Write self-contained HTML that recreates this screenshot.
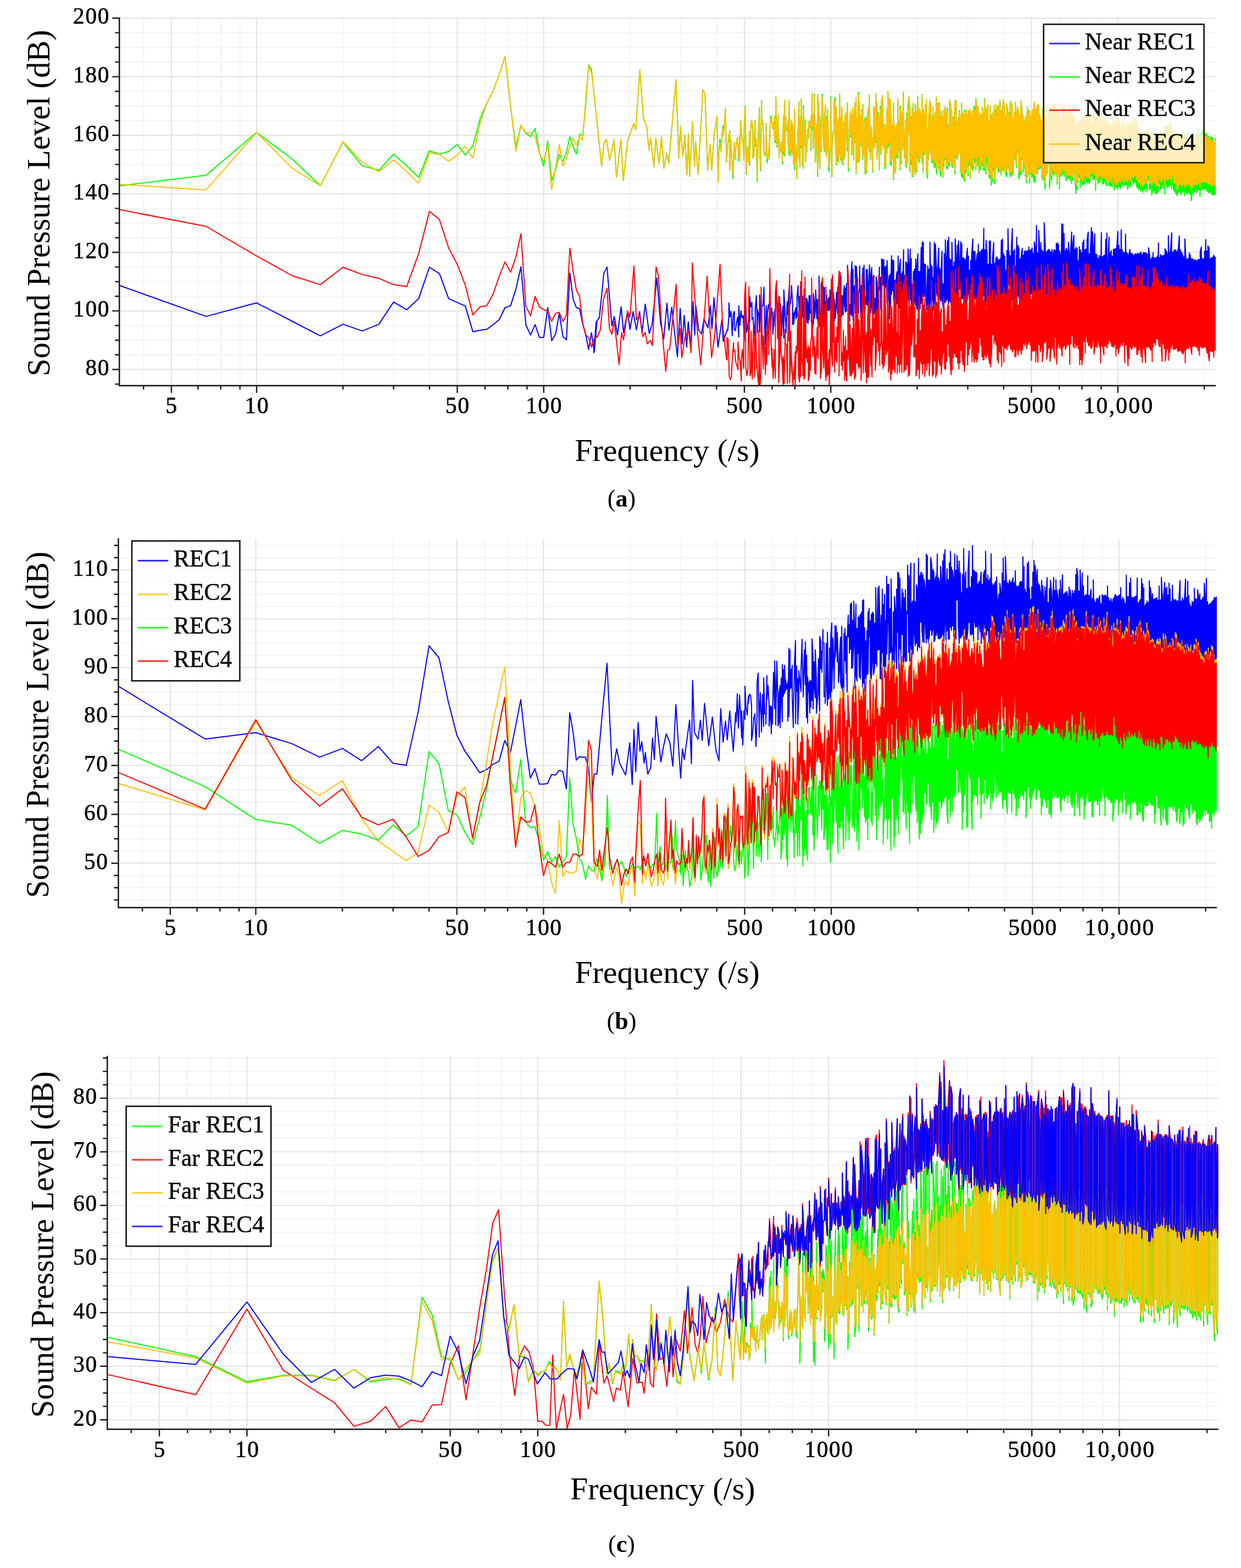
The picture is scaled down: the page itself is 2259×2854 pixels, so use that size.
<!DOCTYPE html>
<html><head><meta charset="utf-8"><title>Sound Pressure Level spectra</title>
<style>html,body{margin:0;padding:0;background:#fff;}svg{display:block;filter:blur(0.5px);}</style></head>
<body><svg xmlns="http://www.w3.org/2000/svg" width="2259" height="2854" viewBox="0 0 2259 2854" font-family='"Liberation Serif", "Times New Roman", serif' fill="#000">
<rect width="2259" height="2854" fill="#fff"/>
<path d="M261.3 33V702M360.4 33V702M401.8 33V702M436.8 33V702M624.4 33V702M716.4 33V702M781.7 33V702M883 33V702M924.4 33V702M959.4 33V702M1147 33V702M1239 33V702M1304.3 33V702M1405.6 33V702M1447 33V702M1482 33V702M1669.6 33V702M1761.6 33V702M1826.9 33V702M1928.2 33V702M1969.6 33V702M2004.6 33V702M2192.2 33V702M217.3 699.1H2213M217.3 645.8H2213M217.3 619.2H2213M217.3 592.5H2213M217.3 539.3H2213M217.3 512.6H2213M217.3 486H2213M217.3 432.7H2213M217.3 406H2213M217.3 379.4H2213M217.3 326.1H2213M217.3 299.4H2213M217.3 272.8H2213M217.3 219.5H2213M217.3 192.9H2213M217.3 166.2H2213M217.3 112.9H2213M217.3 86.3H2213M217.3 59.6H2213" stroke="#f2f2f2" stroke-width="2" fill="none"/>
<path d="M312 33V702M467.1 33V702M832.4 33V702M989.7 33V702M1355 33V702M1512.3 33V702M1877.6 33V702M2034.9 33V702M217.3 672.5H2213M217.3 565.9H2213M217.3 459.3H2213M217.3 352.7H2213M217.3 246.2H2213M217.3 139.6H2213M217.3 33H2213" stroke="#e2e2e2" stroke-width="2" fill="none"/>
<clipPath id="clipa"><rect x="217.3" y="31" width="1995.7" height="671"/></clipPath>
<g clip-path="url(#clipa)" fill="none" stroke-width="2.0" stroke-linejoin="round">
<path stroke="#0000ff" d="M217.8 519.7l157.3 56.2 92-24.6 65.3 33.7 50.6 26.3 41.4-21.2 35 12.3 30.3-12.3 26.7-40.4 24 14.1 21.6-20.2 19.7-57.1 18.2 11.4 16.8 45.7 15.7 7 14.6 6.5 13.8 46.8 13-2.9 12.2-1.4 11.7-8.8 11-8.8 10.6-22 10.1-3.6 9.7-30 9.2-41 8.9 105.4 8.6 19 8.2-19 8 23.4 7.7 0 7.4-54.2 7.2 60 7-11.7 6.8-38 6.6 42.4 6.4 5.9 6.2-121.5 6.1 48.3 5.8 14.6 5.8 1.5 5.6 27.8 5.5 19 5.3 27.9 5.2-30.8 5.1 35.1 5-55.6-5.8 57.1 4.3-55.6 5.9-8.8 8.1-80.5 5.8-11 8.8 106.9 4.4-16.9 5.8 33.7 6.6-51.2 4.4 46.8 7.3-38.1 4.4 32.2 5.9-32.2 5.8 33 5.9-33 4.4 38.1 5.8-52 7.3 53.5 5.2-16.1 8.8-84.9 6.5 81.9 5.9 29.3 5.9-65.1 3.6 49 5.1-41.7 4.7 41.7 5.6 48.3 5.1-87.8 3.7 64.4 3.6-52 4.4 57.8 2.9-46.1 5.2 46.1 3.6-82.7 3 60.8 2.1-53.4 5.2 44.6 5.1 6.6 4.4-27.1 7.3 16.1 4.4-40.2 2.9 41.7 3.7-56.4 7.3 90 7.3-50.5 2.2 40.3 7.3-21.2 1 0.9 2-26 0-24 2 25.6 2-10 2 44.2 2-40.2 2-3.9 0 32.9 2 2.1 2-14.8 2-10.2 2 36.6 0-56.8 2 35.3 2-26.1 2 12.4 2-2.8 0-1.3 2 45.3 2-87.3 2 54.7 0 17.9 2-7.9 2-17.8 2 6.6 0-45.9 2 18.7 2-7.6 0 30.2 2-3.2 2 33.3 2-29.3 0-19.7 2-24.1 2 67.5 0-42.6 2 7.9 2 32.4 0-66.6 2 45.6 2 17.2 0-41.2 2-2.7 2-32.5 0 13.3 2 90.5 2-70.3 0 2.4 2 50.2 0-39.4 2-16.2 2 10.2 0-8.2 2 45.5 2-40.3 0 6 2 1.7 0 39.9 2-28.4 2-16.9 0 31.1 2-68.7 0-3.1 2 32 0 15 2 27.4 2 3.1 0-30.7 2 19.2 0-35.7 2 39 0 19.7 2-53.9 2 58.1 0-88.1 2 34.9 0 7.4 2 26.5 0 9.9 2-57 0 23.3 2-0.1 0-24.3 2-27.9 0 38.6 2-6.9 2-21.6 0-10.4 2 32.9 0 37.7 2-21.1 0 20.7 2-24 0 4.3 2-10.4 0 20 2-5.1 0-34.3 2-20.7 0 13.9 2 32.6 0-26.7 2 15.5 0 23.8 2-17.1 0-43.8 2 58.6 0-38 2 42.6 0-13 2 25 0-24.1 2-2.3 0-23.8 2 43.5 0-43.3 2 14 0 31.6 2-50.8 0 44.1 2-44.3 0 31.8 2-4.3 0 20.5 2-2.8 0 15.2 2-11.6 0-51.7 2 16.6 0 28 2-27.2 0-24.9 2 52.3 0-35.3 2 42.9 0-42 2 21.3 0-64.3 2 81.6 0 7.1 2-17.4 0-57 2-5.2 0 74.6 2-64.4 0 72.9 2-71 0 37 2-12.5 0 21.7 2 15.6 0-47.6 2 26.8 0-12.8 2-10.6 0 24.2 2-4.3 0-33.5 2 38.8 0 9.7 2-70.4 0 74.3 2-1.5 0-16.1 2 22.2 0-40 2 35 0-3.9 2-44 0 18.7 2 21.4 0-49.2 2 45.8 0-49.9 2 38.9 0-58.7 2 4.2 0 74 2-3.7 0-35.1 2 34.6 0-28.3 2-24.4 0 33.1 2 14.9 0-44 2 42.3 0-48.5 2-3.7 0-31.2 2 93.3 0-20.4 2 28.7 0-30.5 2 17.8 0-64 2-31.3 0 99 2-85 0 91.9 2-53.4 0-8.4 2 49.4 0-86.4 2 89.7 0-88.6 2 29.9 0 56.8 2-1.9 0-35.4 2-10.6 0-39.6 2 93.6 0-53.3 2-6.4 0 50.9 2-81.3 0 51.5 2 27.4 0-83.5 2 81.8 0-22.6 2 11.9 0-63.3 2 64.9 0-64.8 2 90.1 0-52.6 2-45.4 0 79.8 2 7.2 0-68.6 2-14.1 0 69.2 2 18.2 0-68.8 2-4.3 0 69.6 2-27.7 0 39.3 2-4.8 0-74.4 2 11.1 0 57.8 2-49 0 30.3 2-67.3 0 41.1 2-22.8 0 54.9 2 13.9 0-101.6 2 0.6 0 46.8 2-46.3 0 37.2 2 40.1 0-64.5 2 36.7 0-38.7 2 67.4 0-76.9 2 73.4 0-23.1 2-22.9 0 79.2 2-82.3 0 61 2-93.9 0 70.3 2-63 0 56.5 2-54.9 0 72.9 2-37.4 0 31.9 2-13.5 0-17 2-16.9 0 58.3 2-8 0-78.9 2 95.3 0-70.2 2-18.9 0 105.6 2-79.4 0 65 2-68.5 0 63.5 2-103.7 0 124.6 2-78.4 0 75.5 2-34.2 0-65.4 2 3.4 0 76.8 2-13.4 0-90.3 2 39 0 69.1 2-107.7 0 92.1 2-74.8 0 85.5 2-39.2 0 33.9 2-57.1 0 62.9 2-8 0-59.4 2 66.4 0-84.7 2 90.5 0-73.3 2-26.2 0 102.1 2-70.1 0 66.8 2-67 0 67.9 2-111.4 0 101.7 2-112 0 130.5 2-129.5 0 96.6 2 2.2 0-59.5 2 1.5 0 46.8 2 34.5 0-30 2-49.5 0 67 2 21.3 0-82.5 2 79.4 0-128.1 2 111.8 0-69.8 2 2.6 0 62.3 2-42.8 0 61.1 2-125 0 108.1 2 14 0-118.8 2 49.6 0 38.5 2 6.8 0-49.4 2-38.5 0 103.7 2-66.2 0 53.3 2 6.3 0-51 2-40.2 0 84.6 2 18.6 0-44.3 2 35.2 0-89.4 2 88.4 0-113.8 2 110.7 0-60 2-49.3 0 104 2 10.6 0-121.2 2 117.1 0-78.3 2 81.8 0-79.4 2 52.4 0-83.8 2 102.5 0-58.8 2 85.4 0-93.2 2 72 0-114.4 2 35.6 0 78.1 2 18.3 0-120.4 2 77.2 0-84.9 2 62.2 0 25.6 2-86.4 0 124.6 2-121.2 0 99.9 2-74.1 0 74.8 2-74.6 0 78.2 2-74.8 0 71.5 2 26.6 0-99.5 2-19.4 0 95 2-81.2 0 63.1 2 17.2 0-54.7 2 66.8 0-83.9 2 67.5 0-79.5 2-27.2 0 106.9 2 10.7 0-94.9 2-0.1 0 86.1 2 0.9 0-66.9 2-15.7 0 82 2-99.5 0 91.8 2-78.2 0 82.8 2 15.8 0-96.7 2-5 0 95.4 2-97.2 0 85.2 2-123.1 0 123.4 2-84.3 0 110 2-29.2 0-98 2 23.9 0 94.8 2 7.9 0-82.9 2 64.5 0-106.4 2-0.6 0 103.4 2-61.1 0 71.8 2-3.1 0-80.7 2-27.2 0 113.6 2-76.2 0 79.7 2-89.5 0 77.5 2-0.9 0-78.4 2 66.9 0-62.9 2 76.9 0-73.8 2-3.7 0 73.7 2-106.9 0 103.4 2-106.1 0 113.5 2-86.8 0 106.4 2-9.2 0-93.4 2 102 0-75.6 2 60 0-95.8 2 69.1 0-108.3 2 100.6 0-59.7 2 81.9 0-74 2 79.5 0-89.6 2-39.5 0 129.4 2-88.2 0 88.9 2-91.9 0 89.6 2-59.6 0 58.3 2-110.7 0 100.3 2 6.6 0-92.3 2 6.8 0 89.8 2-72 0 70.5 2 19.2 0-93.2 2-15.6 0 92.3 2-79.9 0 72.9 2 7.5 0-86.7 2-1.5 0 78.9 2 8.4 0-86.2 2 68.6 0-70.5 2 94.7 0-100.8 2 89.6 0-82.4 2-2.7 0 81.1 2-2.5 0-81.5 2 88 0-77.9 2 78.7 0-99.8 2 12.6 0 98.3 2-140.9 0 129.4 2-79.5 0 68.4 2 8.8 0-117.9 2 38.1 0 85.5 2-101.4 0 102.4 2-89 0 100.6 2-98.2 0 83.8 2 3.1 0-139.1 2 42.6 0 91.1 2-4.4 0-75.9 2 81.2 0-84 2 86.1 0-87.9 2 2.4 0 81 2 30.2 0-109.1 2 89.9 0-94.5 2 93.3 0-85.8 2-7.3 0 90.5 2-88.8 0 89.1 2-11.6 0-90.1 2 99.3 0-100.6 2 4 0 119.4 2-23.3 0-85.1 2 9.8 0 85.9 2-145 0 135.1 2 22.3 0-157.1 2 131.8 0-114.7 2 125.4 0-94 2 89.2 0-93.5 2 4.5 0 96.5 2-17.2 0-94.8 2 23.7 0 77.4 2 4 0-88.6 2-35.4 0 119.4 2 15.9 0-112 2-16.9 0 114.9 2 1.8 0-90.4 2-4.3 0 94.9 2-93.5 0 112.4 2-89.8 0 84.6 2-110.3 0 95.9 2-90.1 0 89.5 2-84.3 0 95.8 2-114.5 0 101.4 2-105.9 0 91.7 2 16.5 0-89.8 2-2 0 99.9 2-10.9 0-104.5 2-15 0 119.3 2 7.5 0-87.4 2 86.2 0-91.1 2-42.9 0 147.3 2-20.6 0-118.9 2 121.9 0-85 2-33.5 0 118.6 2-81.7 0 91 2-89.9 0 83.3 2-76.4 0 80.2 2-85.8 0 86.8 2-84.5 0 92.6 2-136.1 0 131 2-87.3 0 93.3 2-95.2 0 102.4 2-103.7 0 87.2 2-115.8 0 116.2 2-127.2 0 121.6 2 3.7 0-70.8 2-47.7 0 113.9 2 0.7 0-84.3 2-5.1 0 90.6 2-0.2 0-80.7 2 88.9 0-101.2 2 100 0-100.5 2 89 0-90.1 2 92.6 0-92.5 2-31 0 125.5 2 2 0-102.4 2 100.3 0-92.9 2 91.8 0-127 2 130.2 0-93.8 2 91.6 0-87.7 2 101.7 0-100.6 2 81.4 0-115.1 2 142.4 0-109.1 2 102 0-99.9 2 95.5 0-92.3 2-10.8 0 113.4 2-107.6 0 92.4 2-90.1 0 87.9 2 2.4 0-89.7 2 103.9 0-100.9 2-3.9 0 91.6 2-91 0 90.2 2-91.6 0 100.2 2-98.8 0 87.8 2-89.5 0 97 2-99.4 0 94.4 2 3.2 0-92.8 2 82.1 0-85.4 2 0.2 0 99.7 2-99.7 0 91.3 2-90.6 0 91.3 2-4.6 0-84.6 2 90.2 0-102 2 14.6 0 89.3 2-83.4 0 104.9 2-19.8 0-89 2 83.7 0-91.5 2 96.8 0-87.3 2 84.5 0-84.5 2-0.3 0 100.7 2-103.7 0 89.7 2-113.6 0 133 2-106.6 0 98.9 2-104.2 0 105.9 2-12.8 0-91.1 2 90.3 0-90.1 2 89.4 0-90.6 2 88.5 0-100.1 2 99.8 0-96.4 2 6.5 0 89.6 2 15.3 0-138.4 2 122.1 0-93.3 2 103.4 0-106.4 2-31.3 0 124.5 2-88.5 0 110.2 2-113.7 0 94.7 2-0.5 0-96 2 5.6 0 97.3 2-101.5 0 103.5 2 13.6 0-119 2-24.3 0 123.9 2-99.2 0 98.5 2 18.9 0-112.8 2 5.7 0 96.8 2-93.9 0 96.5 2 13.7 0-142.6 2 39.3 0 85.2 2-2.3 0-86 2-0.1 0 87.3 2-98.1 0 116.4 2-112.7 0 98.6 2-91.6 0 83.1 2-83.1 0 89.5 2-1.4 0-85.9 2 85.6 0-85.7 2 83.9 0-83.8 2 87.7 0-86.2 2 84.1 0-86.8 2 1 0 86.3 2 9 0-110.3 2-8.3 0 126.3 2-105.8 0 89.4 2-88.1 0 99.2 2-113.4 0 101.1 2-122.5 0 119.7 2-98.6 0 100.8 2-110.6 0 111.6 2-1.1 0-107.4 2 108.4 0-88 2 86.9 0-87.8 2-1.2 0 89.7 2-1.2 0-92.4 2 2.6 0 88.6 2-87.5 0 98.3 2-12 0-80.4"/>
<path stroke="#00ff00" d="M217.8 338.2l157.3-19.2 92-78 65.3 49 50.6 47.9 41.4-79.1 35 43.1 30.3 7.9 26.7-29.4 24 21.6 21.6 21 19.7-48.5 18.2 6.1 16.8-5.1 15.7-12.9 14.6 19.8 13.8-16.9 13-49.2 12.2-28.1 11.7-22.8 11-29.9 10.6-32.5 10.1 90.5 9.7 73.8 9.2-39.6 8.9 15 8.6 6.1 8.2-14.9 8 43.9 7.7 24.6 7.4-45.7 7.2 72.1 7-19.4 6.8-28.1 6.6 12.3 6.4-15.8 6.2-29 6.1 18.5 5.8 13.1 5.8-36 5.6 1.8 5.5-52.7 5.3-75.5 5.2 8.7 1 8.7 17.5 166.8 4.4-41.7 4.4-6.6 5.9 38.1 8-38.1 4.4 68.8 8.1-68.8 4.3 74.7 8.1-73.2 11-30.7 3.6 11.7 7.4-109.1 6.5 87.1 5.9 16.1 4.4 42.5 2.9-22 5.9 52.7 3.6-52.7 5.9 46.8 4.4-49 4.4 57.8 5.1-27.8 3.6 19 13.2-152.9 5.1 142.7 3-57.1 4.4 54.2 3.6-38.1 3.7 71.7 2.9-74.6 2.2 77.6 5.1-99.6 3.7 80.5 2.2-43.9 4.4 58.6 3.6-63 5.1-90 3.7 6.6 5.1 139.1 4.4-46.9 3 46.9 4.3-65.9 5.2-32.2 2.2 120 1-51.1 2-26.9 2 21.1 2-33.2 2-12.3 0 17.5 2-14.5 2-34.5 2 97.4 2-26.4 2-20.7 2-9.8 0 71.3 2-54.1 2 44 2 25.8 2-63 2 27.7 0-12.1 2-16.5 2-11.2 2 43 2-44 0 38.4 2-67.4 2 30.5 2 5.6 2 34.4 0-51 2-46.8 2 124.7 2-39.9 0-8.5 2 23.4 2-53 0 61.9 2-71.1 2-7.8 2 17.8 0 46.8 2-3.5 2-64.2 0 47.5 2-14.5 2 72.4 0 6 2-91.8 2-42.6 0 56.8 2 57.7 2-127.6 0 44 2-3.4 2 27.9 0 24 2 8.3 2-6.1 0-53.6 2 72.2 2-15.1 0 1.6 2-21.8 0 28.9 2-79.1 2 3.3 0 2.8 2 16 2 1 0-11.6 2 36.5 0-47.6 2 48.2 0-83.1 2 91.3 2-54.8 0 27 2 47.5 0-32.4 2 21.6 2-10.8 0-7.7 2 40.1 0-34.9 2-52.2 0 69.6 2-96.7 0 99.7 2-68.6 0 22.2 2 0.1 2-17 0 41.2 2 19.3 0-95.7 2 97.6 0-4.7 2-57 0 55.9 2 1.6 0-52.3 2 33.4 0 38.4 2-95 0 105.7 2-37.7 0-3.4 2 37.4 0 20 2-87.3 0 33.1 2-86 0 102.7 2 15.5 0-90.9 2 56.6 0-88.8 2 76.5 0 41.3 2 9 0-114.8 2 57.3 0 16.6 2-48 0 77 2-31 0 10.3 2-38.5 0 0.2 2 16.2 0-30.9 2 8.4 0 2.9 2-19.4 0 60.4 2-102.8 0 64.7 2-26.9 0 61.6 2-53.3 0-45.3 2 123.3 0-6.5 2-61.1 0 4.1 2 90.2 0-147.9 2 19.4 0 84.1 2 29.5 0-94.5 2 56.1 0 7.8 2-96 0-8.8 2 42.1 0 36.5 2 25.5 0-53.6 2-29.6 0 81 2 11.5 0-72.1 2 63.5 0-75.1 2 71.4 0 39.4 2-25.7 0-9.2 2-12.4 0-89.2 2 146.1 0-48.7 2-23.5 0-5.2 2-2.5 0-56.4 2-8.4 0 78.6 2 44.9 0-105.3 2 98 0-47.8 2-29.9 0 79.9 2-24.5 0-99.1 2 120.1 0-75.8 2 79.2 0-99.3 2 65.6 0 38.7 2-76.6 0 65.9 2-9.6 0-66.8 2-7.6 0 28.7 2 40.4 0-87.2 2 124.5 0-28 2-48.5 0-9.3 2-20.5 0 43.8 2-40.5 0 73.3 2-83.6 0 69.4 2 20.7 0-56.5 2-43.7 0 70.9 2-75.3 0 132 2-100.7 0 79.8 2-126.7 0 127.1 2-110.1 0 107.4 2-82.2 0 56 2-66.7 0 48.9 2 41.4 0-100.3 2 76.1 0 15.3 2-66.7 0 102.1 2-101 0 100 2-24.2 0-78.4 2-15.8 0 62.8 2 16 0-103.3 2 117.1 0-48.6 2 35 0-39.7 2 76.4 0-61.3 2 12.8 0-69.1 2 5.8 0 66.5 2-91.3 0 82.6 2-71.4 0 101.6 2-25.7 0-58.3 2 13.2 0 91.1 2-115.5 0 77.2 2 9.6 0-96.8 2 76.2 0-85.8 2 96.1 0-36.4 2-7.2 0 80.2 2-70.3 0 66.3 2-102.5 0 76.3 2-108.5 0 100.3 2-11.1 0-79.2 2 120.1 0-117.4 2 60.1 0 60.1 2-72.5 0 59.5 2-100.5 0 139.3 2-97.4 0 85.9 2-6.3 0-68.9 2-14.3 0 58.6 2 3.5 0-107.5 2 92.4 0-49 2 84.8 0-115.8 2 23 0 82.2 2-93.3 0 67.9 2-104.4 0 78 2 40.8 0-29.5 2-38.2 0 81.4 2 3.4 0-98.4 2 86.8 0-92.9 2-23.6 0 68.8 2-49.3 0 117.4 2-100.3 0 86.4 2-101.6 0 124.2 2-132.3 0 131.9 2-111.2 0 90.5 2 17.2 0-128.1 2 122.3 0-108.6 2 83.7 0-110.8 2 40.4 0 78.5 2-7.2 0-85.6 2 8.2 0 62.9 2 22.5 0-124.2 2 141.2 0-113.1 2 13.1 0 68.4 2-89.5 0 86.3 2-97.2 0 129.7 2 13.8 0-90 2 55.8 0-74.7 2-30.7 0 91.8 2-89.3 0 76.7 2 32.1 0-85.4 2 85.7 0-99.3 2 28.9 0 78 2-99.3 0 99.8 2-128.3 0 140.2 2-35 0-93.2 2-0.9 0 119.2 2-118.1 0 116.8 2 14.9 0-107.3 2-10.5 0 87.5 2 32.6 0-111 2 91.2 0-101.5 2 88.9 0-95.6 2 111 0-91.3 2-17.3 0 111.1 2-12.8 0-67.1 2 74.6 0-119.3 2 5.3 0 105.3 2-93.5 0 102.3 2 1.7 0-91.6 2 89.2 0-67.7 2-51.2 0 133.7 2-134.1 0 103.3 2-63.8 0 67.4 2-75.3 0 67.9 2-81.3 0 73.8 2-59 0 94.1 2 11 0-133.3 2 136.9 0-118.3 2 1.6 0 115.2 2 6.6 0-129.4 2 1.4 0 113.9 2-106.7 0 78 2 33 0-117.1 2 98.2 0-95.4 2 118.7 0-121.1 2 17.6 0 78.5 2 11.4 0-108.7 2 103.6 0-112.6 2 102.4 0-101.5 2 114.5 0-128.6 2 18.5 0 103.6 2-106.3 0 92 2 28 0-109.2 2 7.6 0 95 2-14.1 0-85 2 92 0-106.2 2 21.1 0 93.3 2-130.3 0 131.3 2-114.9 0 121 2-28.9 0-78.7 2-18.6 0 118.9 2-85.9 0 97.7 2 4.1 0-130.2 2 141.7 0-127.4 2 121.6 0-126.1 2 105.3 0-94 2-25.9 0 143.6 2-27.9 0-105.8 2 103.3 0-112.8 2 5.1 0 118.5 2-122.4 0 119.3 2-129 0 130.1 2-109.7 0 115.1 2-123.5 0 115.9 2-5.6 0-123.7 2 15.7 0 112.1 2-98.4 0 104.7 2 6.3 0-132.1 2 12.7 0 101.4 2-97.8 0 102 2 11.4 0-122.4 2-12.3 0 137.1 2-127.9 0 124 2-100.7 0 98.9 2-112.3 0 86.5 2-103.9 0 99.6 2 18.4 0-102.1 2 75.1 0-82.1 2 11.1 0 119.5 2-10.8 0-105.2 2 108.7 0-130.7 2 9.5 0 92.7 2-77.8 0 100.2 2-9.8 0-82.8 2 100.9 0-107.5 2 119.8 0-110.9 2-23.9 0 123.4 2-8.8 0-111.9 2 132.2 0-128.1 2 112.3 0-99.6 2 104.5 0-113.9 2-3.2 0 113.3 2 13.6 0-142.3 2 140.9 0-130.5 2-0.1 0 109.7 2-117.6 0 125.4 2-126.1 0 116.7 2-2 0-97.7 2 24.2 0 73.1 2-84.5 0 102.3 2-120.3 0 124.8 2-112.7 0 99.6 2 29.5 0-130.9 2-19.9 0 125.5 2-4.3 0-94.5 2 78.2 0-99.1 2 2.1 0 141.6 2-26.5 0-120.7 2 131 0-132.9 2 6.9 0 111 2 8.1 0-130.9 2 4.2 0 121.9 2 1.8 0-112.5 2 131 0-135.9 2 121.7 0-111.8 2-1 0 135.7 2-126.7 0 103.5 2-1.8 0-102.9 2-21.7 0 122.7 2-121.1 0 119.1 2-121.4 0 127 2-115.2 0 123.3 2-5.8 0-112.8 2 1.2 0 112.6 2 0.3 0-132.1 2 136.2 0-129.6 2 2.1 0 132.9 2-118.9 0 112.8 2-19.7 0-97.1 2 6.3 0 101.1 2 34 0-118.9 2 112.4 0-121.1 2 107.5 0-106.8 2 97.2 0-97.7 2-4.1 0 120.4 2-121.9 0 110.7 2-118.3 0 124.5 2-1.6 0-121.9 2 122.1 0-113.8 2-0.9 0 102.7 2 8.9 0-119 2-7.5 0 126.8 2-121.6 0 123.4 2-7.8 0-110.9 2 105.3 0-91.1 2-1.2 0 91.6 2 7.2 0-107.4 2 105.5 0-111.8 2 133.1 0-132.6 2 112.7 0-111.3 2-6.4 0 124.6 2-1.3 0-99.2 2-13.5 0 111.6 2-126.9 0 121.4 2-112.1 0 122.5 2-119.9 0 118.2 2-5.6 0-99.9 2-12.5 0 114.6 2 8 0-112.3 2-3.9 0 104.4 2-96.8 0 106.6 2-113.5 0 115 2 0.2 0-100.4 2-8 0 110.2 2-126.8 0 118.2 2 14.1 0-117 2-6 0 114.9 2 3.5 0-121.9 2 125.1 0-128 2-2.2 0 125 2 0.8 0-115.9 2 119.2 0-99.1 2 90.8 0-108.1 2 3.2 0 109.4 2-115.1 0 112.3 2-98.4 0 98 2-104.6 0 104.7 2-110.9 0 119.1 2-9.2 0-108.3 2-3.3 0 118.4 2-113.3 0 108.9 2-109.8 0 100.7 2-104.6 0 110.7 2-2.9 0-107.3 2-8.9 0 116 2-108 0 115.8 2-111 0 113.4 2-108 0 111.2 2-102.6 0 100.3 2-98.5 0 103.2 2-0.7 0-103.1 2 1.5 0 104.9 2-104.6 0 100.9 2-5.4 0-100.2 2 108.5 0-105.5 2 102 0-111.5 2 93.1 0-74.2 2-21.4 0 113.8 2-2.5 0-102.1 2 3.1 0 110.5 2-9.6 0-93.8 2 95.6 0-90.9 2 95 0-100.5 2-1.7 0 104 2-104.9 0 104.2 2-4.6 0-97.2 2 84.8 0-89.3 2 98 0-103.5 2 5.2 0 98.1 2-9.8 0-84.5 2 94 0-99.1 2 108.8 0-119.4 2-3.2 0 106.9 2-102.8 0 108 2-115.6 0 112.8 2-0.1 0-102.5 2-13.4 0 113.1 2-101.3 0 108.3 2-105.6 0 93.4 2 15 0-99.4 2 102.3 0-105.5 2 2.8 0 105.7 2-101.5 0 105.3 2-6.2 0-106.9 2 4.2 0 100.7 2 3.2 0-103.4 2 106.7 0-105 2 99.8 0-101.9 2 102.1 0-111.1 2 11.8 0 106.5 2-109.6 0 100 2 5.4 0-102.3 2 102.9 0-112.7 2 14.2 0 93.7 2 5.3 0-102.8 2 2.3 0 112 2-12.6 0-98.5 2 97.3 0-98.8 2 2 0 94.3 2-98.6 0 94.7 2-101 0 107 2-5.5 0-111.3 2 110.9 0-100.1 2-3 0 115.9 2-114.3 0 102.6 2-2.6 0-107.4 2 6.3 0 100.6 2-107.8 0 109.3 2-0.8 0-100.2 2 0.3 0 104.4 2-100.2 0 98.8 2 3.5 0-101.5 2 101.7 0-96.5 2-4.9 0 99.6 2 5.8 0-103.5 2 1.1 0 101.6 2 1.1 0-95.5 2 93.9 0-102.3 2 25.1 0 73.5"/>
<path stroke="#ff0000" d="M217.8 381.5l157.3 30.5 92 53.8 65.3 36.2 50.6 16.1 41.4-31.6 35 13.1 30.3 7.1 26.7 11.4 24 3.5 21.6-59.7 19.7-77.3 18.2 14.9 16.8 51.8 15.7 29.9 14.6 37.8 13.8 54.2 13-14.6 12.2-2.2 11.7-21.2 11-32.2 10.6-26.4 10.1 19 9.7-27.8 9.2-42.4 8.9 131.7 8.6 17.6 8.2-35.2 8 19.1 7.7 5.1 7.4 2.2 7.2 19 7-14.6 6.8-1.5 6.6 16.1 6.4-11.7 6.2-121.5 6.1 42.5 5.8 33.6 5.8 11.7 5.6 48.3 5.5 22 5.3 4.4 5.2 17.6 5.1-14.7 5-5.8 0 2.9 5.9-13.2 5.8-55.6 6.6-20.5 4.4 73.2 4.4 10.2 4.4-23.4 8.8 78.3 4.4-57.8 3.6 13.2 7.3-52.7 4.4 11.7 7.3-93.7 4.4 98.1 5.9-8.8 5.8 39.5 4.4-7.3 3.7 20.5 5.8-5.9 3.7 8.8 6.6-142.7 4.4 16.8 5.1 83.5 8.1 89.3 3.6-38.1 3.7-2.9 11.7-117.1 2.9 112.7 4.4-32.2 2.9 52.7 5.9-38.1 6.6-10.2 4.4 39.5 2.2-163.2 3.6 51.9 5.2 67.4 6.5 65.9 5.9-77.6 5.8-83.5 8.1 147.9 5.8-41 9.6-128.8 4.3 105.4 7.4 67.3 1 1.6 0-40.8 2 2.9 2 66.9 2 7 2-6.5 2-37.1 2-24 0 16 2-2.6 2 22 2 6.1 2 7.7 0-50.7 2 28.5 2 8.3 2 34.5 0-38.9 2-18.6 2 34.3 2-130.4 2-26.1 0 153.1 2 16.7 2-10.7 2-150.9 0 35.4 2 127.2 2-9 0-72.8 2 87.1 2-91.8 2 30.3 0 58.1 2-102.1 2 87.1 0-15.2 2 29.9 2 16.9 0-102.3 2 101 2-23 0-156.3 2 95.8 2 52.7 0-60.3 2 20.1 2 50.6 0-43.7 2-35.9 0 61.6 2-87.1 2 49.8 0 18.9 2-156 2 131.3 0 0.2 2 47.8 0-33.9 2 54.6 2-52.8 0 7.8 2 44.6 0-157.6 2-19.7 2 105.3 0-9.7 2-68.5 0 157.9 2-48.9 0-106.4 2 97.4 2 21.6 0-7.7 2 47.5 0-51.5 2 18 0 31.9 2-98.8 0 26.2 2 0.5 2 71.6 0-57.7 2-78.4 0 58.6 2-121.3 0 197.6 2-47 0-46.7 2 76.7 0-21.1 2 44 0-9.4 2-24 0 21.4 2-50.2 0 62.8 2-72.9 0 14 2-7.3 0-39.2 2-30.1 0 115.8 2 12.2 0-116.4 2-66.3 0 173 2-193 0 159.4 2 14.9 0 16.3 2-157.7 0 164.4 2-4.5 0-181.3 2 146.7 0-27.7 2 36.2 0-16.3 2-13.2 0 62.9 2-8.4 0-50.7 2 40.8 0-51 2-11.3 0-106.3 2 136.3 0 6.6 2-23 0-13.4 2 67.4 0-48.7 2 49.8 0-11.6 2-73.5 0 41.1 2 15.7 0-78.3 2-56.8 0 77.3 2-23.7 0 117.9 2-17.7 0-137.6 2-28.8 0 130.1 2 34.7 0-35.1 2-79.7 0 93.2 2 44.3 0-170.6 2 89.7 0 73.7 2-30.2 0 27 2-45.7 0 65.5 2-57.2 0-43.7 2-91.9 0 130.8 2 26 0-165.6 2 122.9 0-90.6 2 144.6 0-24.9 2-38.6 0 38.9 2 7 0-64.7 2 28 0-92.2 2-37.3 0 190.8 2-188.3 0 24.3 2 120.2 0 24.6 2-22.7 0 31 2-72.2 0 55.6 2-26.6 0 62.2 2-79.5 0 66.7 2 14.6 0-56.1 2 16 0-163.5 2 38.6 0 113.1 2 41.3 0-93.3 2 72.6 0 22.2 2-87.2 0 82.2 2-7.3 0-139.3 2 86 0 70.5 2-5.5 0-177.2 2 153.7 0-44.2 2-110 0 154.1 2 10.1 0-88.8 2 69.7 0 15.7 2-100 0 125 2-74.9 0-117.7 2 111.1 0 68 2-57 0-93.9 2 149.7 0-67.7 2 86.9 0-92.2 2 82.1 0-111.3 2-26 0 137.3 2-167.1 0 114.8 2 31.4 0-66.2 2 86.4 0-43.6 2-141.7 0 126.5 2-48 0 34.2 2-46.7 0 106.8 2-34 0-76.7 2 60.5 0-58.7 2 73.9 0-137.1 2 163.3 0-25.8 2-15 0-36.5 2-87.9 0 162.5 2-40.7 0 48.9 2-150.2 0 146.1 2-31 0-99.4 2 78.8 0 30.7 2-9.7 0-125.4 2 85.7 0 81.3 2-10.7 0-77.5 2 102.7 0-136.1 2 125.1 0-121.9 2 114 0-34.1 2-93.3 0 120.5 2 12.2 0-164.6 2 4.1 0 130.8 2-44.1 0 75.9 2-179.9 0 163.6 2-52.5 0 65.4 2-163.9 0 149.8 2-132.7 0 148.2 2-90.3 0-59.2 2-13.6 0 162 2-176.3 0 172.5 2-1.7 0-170.1 2 162.6 0-131.4 2 152.3 0-68.2 2-95.6 0 161.1 2-61.4 0-62.2 2-6.2 0 76.4 2-27.6 0-81.3 2-11.2 0 140.7 2-90.8 0 90.6 2-21.4 0 56 2-14.9 0-88.2 2 91.9 0-98.8 2-35.7 0 150.7 2-87.6 0 52.2 2 8.8 0-82.3 2-43.8 0 144.8 2-125.7 0 107 2-118.7 0 141.7 2-30.3 0-92 2 110.9 0-100.8 2-16 0 103.9 2-107.2 0 129.9 2-33.4 0-89.1 2 74.3 0-124.3 2 173.4 0-126.4 2 122.7 0-82.5 2-41 0 100 2-142.3 0 171.7 2-136.6 0 131.6 2-35.2 0-147.6 2 50.1 0 107.8 2 9.1 0-94.2 2-10.4 0 119.1 2-30.2 0-46.6 2 39.3 0-102.4 2 32.3 0 97.5 2 1.9 0-81 2 66.7 0-72.4 2-32 0 72.4 2-69.1 0 91.4 2-63.7 0 72 2 25.5 0-186.9 2 177.6 0-128.3 2-52.3 0 158.9 2-120.2 0 112.3 2-154.1 0 159 2 2.2 0-115.7 2 126.6 0-72.8 2-103.1 0 186.1 2-130.1 0 119 2-148 0 125.3 2-84.6 0 95.9 2 15.2 0-107.3 2-18.9 0 138.3 2-45.5 0-75.6 2 66.7 0-116.3 2 158.7 0-80.3 2 61.9 0-63.9 2-54.6 0 107.7 2-18.8 0-98.4 2 140.4 0-156.8 2 10.8 0 126.4 2 20.9 0-119.4 2 113.3 0-92.3 2-18.3 0 116.2 2-127.1 0 121.7 2-135.7 0 124.2 2-144.6 0 117.5 2-110.5 0 124.1 2-122.9 0 143.5 2-134.9 0 140.8 2-1.2 0-107.8 2 17.6 0 81.9 2 5.4 0-93.8 2-52.3 0 139 2-104.2 0 108.4 2 13.6 0-157.3 2 43.4 0 119.8 2-36.5 0-89.9 2-14.3 0 82.3 2-61 0 77.6 2-96.7 0 87.7 2 11 0-90.8 2 118.3 0-172.1 2 177.4 0-174.5 2 154.3 0-145 2 148.3 0-107.8 2 131 0-131.5 2 94.1 0-96.3 2 125.6 0-136 2 19.1 0 91.3 2-99 0 99.8 2-98.1 0 100.8 2-153.4 0 146.7 2-103.4 0 99.9 2-121.6 0 131.2 2-112.9 0 110.6 2 6.9 0-66 2-91.8 0 153 2-139.8 0 153.5 2-1.8 0-96.8 2-52.8 0 136.5 2 11.3 0-90.7 2 83 0-81.4 2-50.5 0 126.9 2 10.9 0-98.2 2 90.4 0-121 2 28.4 0 81.8 2-91.7 0 94.9 2-134.3 0 125.2 2 15.1 0-123.7 2 115.2 0-124.7 2 120.2 0-91.9 2 98.4 0-92.9 2 120.6 0-110.6 2 93.7 0-117.9 2 117.2 0-109.4 2 109.7 0-108.8 2 1.8 0 127.3 2-171.5 0 144.7 2 26.8 0-124.4 2-9.4 0 102.2 2-100.3 0 113.3 2-8.8 0-149.8 2 41.8 0 134.8 2-23.7 0-100.5 2-34.2 0 124.2 2-139.1 0 136.8 2-83.7 0 115.2 2-16.5 0-156.8 2 153.4 0-139.4 2 51.8 0 111.7 2-24.1 0-111.3 2-33 0 145.6 2-107.5 0 99.6 2 25 0-124.8 2 87 0-72 2 120.5 0-125.6 2-22.6 0 119.6 2-106.6 0 94.1 2 12.8 0-110.9 2 14 0 89.7 2 20.8 0-150.8 2 135.4 0-151.8 2 148.1 0-103.8 2-6.6 0 117.8 2-6.8 0-150.9 2 28.4 0 119.2 2 1.6 0-118.3 2 153.7 0-154.7 2 117.3 0-105.1 2-4.8 0 95 2-92.2 0 110.7 2 4 0-111.5 2 10.2 0 90.9 2 9.5 0-111.7 2 107.5 0-104.7 2 111.9 0-104.4 2 132.6 0-174.3 2 39.6 0 125.5 2-130 0 140.1 2-20.8 0-118 2-21.4 0 117.4 2-142.5 0 163.7 2-162.3 0 125.7 2 16.9 0-100.7 2 107.3 0-147.7 2 146.4 0-132.2 2 137.1 0-111 2 0.7 0 110.7 2-16.7 0-110.8 2-14.1 0 152 2-15 0-108.1 2 5.2 0 104.5 2-111.6 0 113.2 2-113.9 0 98.9 2 13.8 0-112.1 2 141.2 0-168.1 2 24.1 0 113 2-108.6 0 109.6 2 15.5 0-127.6 2-20 0 131.8 2-106.6 0 104.1 2 5.8 0-120.9 2 113.2 0-100.3 2 94.2 0-99.5 2 103.3 0-137.1 2 18.2 0 125.5 2-106.9 0 107.4 2-117.7 0 119.1 2-7.9 0-94 2 118 0-125.6 2-30.5 0 142.6 2-124.6 0 133.7 2-9.4 0-138.6 2 135.1 0-107 2-8.5 0 108.6 2 4.8 0-111.7 2 105.9 0-105.9 2 143.3 0-142.5 2 109.8 0-125.5 2-0.8 0 129.6 2 34.9 0-141.9 2 128.6 0-128 2 107.6 0-108.5 2 9.1 0 103.5 2-3.3 0-128.4 2 1.6 0 121.3 2 4.7 0-126.5 2 125.4 0-108.5 2 123.3 0-162.5 2 161 0-121.1 2 114.1 0-152.2 2 34.2 0 109.9 2 20.2 0-148.2 2 158.5 0-172.2 2 146.9 0-113.8 2 0.8 0 112.7 2 26 0-140.6 2 6.5 0 105.9 2-0.9 0-139.6 2 141.4 0-108.6 2 3.6 0 106.8 2 3.1 0-114.5 2 135.1 0-143.3 2 116.6 0-145.1 2 137.4 0-135.4 2 140 0-140.8 2 129 0-104 2-16 0 121.1 2-108.2 0 118.3 2 3.5 0-114.7 2-3.5 0 107.3 2 37 0-143.5 2 112.1 0-102.4 2-5.3 0 116.5 2-112.3 0 134.5 2-20.7 0-132.5 2 131.8 0-115.9 2 136.1 0-133.2 2 118.6 0-117.7 2-2.5 0 113.1 2-8.1 0-107.2 2 116.4 0-110.8 2 111.5 0-114.6 2 5.9 0 108.1 2-2.8 0-110.8 2 117.4 0-119 2 4.3 0 114.9 2-114 0 113.7 2-115.6 0 112.4 2 6.1 0-106.3 2-15.8 0 124.9 2-8 0-113.9 2 2.7 0 134.7 2-133.8 0 109 2-3.2 0-111.3 2 113.1 0-133.3 2 129.4 0-108.6 2-7 0 119.5 2 10.6 0-135.1 2 121.2 0-116.8 2-6.4 0 123 2-113.3 0 112.4 2-118.2 0 121.6 2-121.7 0 117.4 2 9.5 0-125.3 2 133.6 0-142.3 2 126.4 0-118 2-6.3 0 127 2-0.6 0-117.5 2 117.4 0-117.1 2 1.6 0 114.4 2-114.6 0 115 2 10.7 0-121.4 2-27.8 0 153.4 2 10.1 0-135.8 2 0.6 0 117.2 2-114.8 0 115.2 2 0.8 0-113.1 2 123 0-124.2 2 111.5 0-108.3 2-5.5 0 122.4"/>
<path stroke="#ffc000" d="M217.8 335.4l157.3 10.3 92-104.7 65.3 65.6 50.6 31.4 41.4-80 35 36.9 30.3 17.5 26.7-21.1 24 20.7 21.6 21.5 19.7-55.3 18.2 3 16.8 12.4 15.7-11.2 14.6-16.2 13.8 21.3 13-62.4 12.2-36.9 11.7-22.8 11-29.9 10.6-32.5 10.1 90.5 9.7 81.7 9.2-46.7 8.9 12.5 8.6 0.8 8.2 7 8 30.8 7.7 14 7.4-28.1 7.2 79.9 7-39.4 6.8-43.1 6.6 39.5 6.4-14.1 6.2-21 6.1-15.8 5.8 12.3 5.8-15 5.6 7.1 5.5-72.9 5.3-63.3-0.4-0.7 6.6 16.4 17.5 166.8 4.4-41.7 4.4-6.6 5.9 38.1 8-38.1 4.4 68.8 8.1-68.8 4.3 74.7 8.1-73.2 11-30.7 3.6 11.7 7.4-109.1 6.5 87.1 5.9 16.1 4.4 42.5 2.9-22 5.9 52.7 3.6-52.7 5.9 46.8 4.4-49 4.4 57.8 5.1-27.8 3.6 19 13.2-152.9 5.1 142.7 3-57.1 4.4 54.2 3.6-38.1 3.7 71.7 2.9-74.6 2.2 77.6 5.1-99.6 3.7 80.5 2.2-43.9 4.4 58.6 3.6-63 5.1-90 3.7 6.6 5.1 139.1 4.4-46.9 3 46.9 4.3-65.9 5.2-32.2 2.2 120 1-49.2 2-22.5 2 17.3 2-40 2-2.1 0 13.4 2-14.8 2-36.6 2 98.2 2-30.4 2-19.1 2-5.9 0 71.5 2-58.3 2 43.2 2 21.7 2-59.5 2 30.3 0-12.7 2-13.3 2-12.7 2 36.8 2-38.1 0 41.7 2-69.7 2 29.5 2 7.4 2 35.2 0-57 2-41.6 2 120.7 2-41 0-7.2 2 27.8 2-52.3 0 54.7 2-65.8 2-12.8 2 13 0 57.3 2-6.4 2-60.3 0 40.3 2-10.4 2 60.6 0 11.9 2-86.8 2-37.7 0 51.2 2 56.2 2-120 0 41.7 2-9.6 2 29 0 29.1 2 4.4 2-6.9 0-50.4 2 65.2 2-9.3 0 5.9 2-29.5 0 31.8 2-72.2 2-2.1 0-1.6 2 18.6 2-1 0-5.7 2 31.2 0-44.7 2 46 0-79.6 2 86.7 2-55.4 0 24.4 2 53 0-33.5 2 23.2 2-12.7 0-3.8 2 33.9 0-36.5 2-44.7 0 63.9 2-93.9 0 98.3 2-67.2 0 23.9 2-1.8 2-17.4 0 42.9 2 14.1 0-91.6 2 96.8 0-5.7 2-56.4 0 53.7 2 9.8 0-57.7 2 31.9 0 41.8 2-98.9 0 103.5 2-38.1 0-2.2 2 34.4 0 27.4 2-86.6 0 33.6 2-84.2 0 99 2 16 0-88.5 2 52.6 0-84.3 2 77 0 32 2 16.5 0-106.7 2 48.4 0 16.8 2-47.6 0 77.1 2-30.4 0 14.1 2-39.4 0-0.9 2 14.1 0-28.4 2 2.4 0 6.8 2-22.2 0 58.3 2-99.6 0 59.7 2-19.6 0 60 2-55.5 0-40 2 121.1 0-12.8 2-56.1 0 3.4 2 85.6 0-142.8 2 26.1 0 82.8 2 23.3 0-92 2 55.7 0 4.5 2-95.4 0-2 2 35.6 0 40.2 2 21.1 0-49.6 2-32 0 81.4 2 13.1 0-67.7 2 59.3 0-80.2 2 73.3 0 33.2 2-22.5 0-5.9 2-12.1 0-82.8 2 138.3 0-48.8 2-24.7 0-6 2 3.6 0-58.3 2-0.7 0 70.1 2 44.1 0-102.1 2 91.4 0-47.7 2-22.3 0 76.8 2-25 0-95.3 2 114.1 0-74.3 2 80.5 0-97.6 2 60.5 0 38.7 2-73.7 0 65.2 2-13.4 0-63.8 2-3.9 0 25.3 2 36.4 0-79.3 2 117.5 0-23.7 2-46.4 0-15.6 2-18.5 0 43.6 2-35.4 0 68.5 2-82.8 0 65.3 2 31.9 0-67.1 2-38 0 70.7 2-81 0 135.6 2-99.2 0 80.1 2-120.2 0 120.3 2-107 0 103.1 2-79.6 0 51.4 2-60.1 0 47.8 2 37.9 0-95.5 2 91.9 0-15.8 2-48.6 0 96.3 2-97.4 0 90.7 2-20.4 0-73.7 2-15.9 0 54 2 21.4 0-102 2 115.3 0-49.2 2 38.4 0-47.5 2 81.3 0-60.1 2 17.4 0-69.4 2-2 0 72.2 2-98.8 0 85 2-68.9 0 104.1 2-27.9 0-52.3 2 11.3 0 86.8 2-109 0 74.1 2 4.9 0-97.4 2 84.1 0-89.1 2 94.1 0-35.3 2-5.2 0 72.7 2-68.9 0 68.3 2-102.3 0 80.5 2-113.2 0 96.1 2-8.9 0-74 2 116.3 0-115.2 2 55.9 0 56.3 2-64 0 59.4 2-98.5 0 133 2-97.5 0 89.3 2-10.1 0-61.8 2-16.5 0 53.7 2 3.9 0-102.3 2 88.5 0-42.3 2 77.6 0-106.9 2 21.4 0 73.7 2-89.3 0 68.8 2-105.6 0 76.1 2 43.1 0-30.2 2-36.4 0 80.5 2-0.5 0-91.4 2 88.9 0-98.6 2 45.5 0-67.5 2 21.1 0 111.9 2-93.5 0 75.4 2-92.3 0 121 2-133 0 132.2 2-114.5 0 94.2 2 18 0-126.8 2 118.3 0-106.6 2 82.1 0-103.4 2 36.2 0 74.1 2-7.7 0-85.4 2 14.1 0 66 2 14.4 0-119.6 2 141.7 0-111.5 2 5.7 0 68.5 2-86.6 0 87.6 2-96.6 0 122.9 2 13 0-84.2 2 57.7 0-77.1 2-31 0 96.3 2-91.3 0 74.5 2 30.5 0-82.1 2 79.3 0-95.3 2 33.4 0 70.1 2-94.5 0 91.6 2-118.1 0 130.5 2-28.8 0-89.4 2-0.7 0 113.7 2-116 0 119.3 2 4.4 0-96.7 2-13.1 0 91 2 27 0-106.8 2 86.9 0-99.4 2 88.6 0-92.2 2 106.4 0-90.2 2-10 0 100.3 2-9 0-62.9 2 64.7 0-113.3 2 7.9 0 102.4 2 3.4 0-93.9 2 100.8 0-87.2 2 87.2 0-75.1 2-42.8 0 124.9 2-126.3 0 97.1 2 5.5 0-58.7 2-11.2 0 66.9 2-12.1 0-65.8 2 9.6 0 91.2 2 10.8 0-129.3 2 129.6 0-110.9 2 1.7 0 114.2 2 3.5 0-120.8 2 0 0 103.7 2-98.7 0 74.3 2 29.9 0-113.3 2 92.5 0-90.9 2 119.8 0-122.7 2 20.5 0 74.3 2-90.2 0 100.6 2-3.8 0-107.5 2 93.9 0-85.5 2 102.5 0-121.7 2 16.1 0 104 2-108.7 0 91.7 2-80.9 0 110.6 2-107 0 95.2 2-11.8 0-82.4 2 86.7 0-99.5 2 20.6 0 88.3 2-122.5 0 120.9 2 8.3 0-114.9 2 11.4 0 77 2-93.5 0 116.1 2-87.5 0 96.8 2 1.5 0-126.1 2 137 0-118.4 2 112.2 0-116.3 2 96.7 0-87 2-25.4 0 134.8 2-23.7 0-98.9 2 102.5 0-114.6 2 10.4 0 111.7 2-122.1 0 114.2 2-122.6 0 128.6 2-106.7 0 109.2 2-119.5 0 113 2-6.6 0-119.1 2 9.1 0 121.3 2-101.5 0 100.7 2 1 0-123.2 2 13.9 0 98.1 2-92.5 0 99.5 2 9.8 0-125 2 120.9 0-126.5 2 3.2 0 124.7 2-99.2 0 93 2-104.1 0 84.7 2-103.2 0 94.3 2 19.7 0-99.8 2 70.6 0-76.9 2 10 0 109.3 2-6.4 0-98 2 99.9 0-126.5 2 16.3 0 90 2-79.6 0 99 2-11.8 0-75.8 2 95.3 0-101.1 2 111.2 0-103.9 2-27.9 0 124.6 2-5.4 0-109.4 2 121.6 0-124 2 112.1 0-102.9 2 104.6 0-111.7 2-5.2 0 114.9 2 6 0-134.1 2 12.8 0 124.2 2-123.8 0 116 2-123.8 0 120.4 2-120.5 0 113.7 2-1.9 0-94.4 2 17.3 0 76.8 2-84 0 104 2-126.2 0 128.3 2-8.4 0-105.1 2 122.2 0-120.6 2-15 0 123.1 2-13.8 0-92.8 2 80.2 0-92.2 2-5.8 0 132.1 2-18.3 0-113.8 2 123.2 0-128.6 2 118.1 0-114.2 2 119.8 0-125.5 2 0.3 0 123.6 2 2.3 0-112.2 2 124.5 0-127 2 119 0-115 2 2 0 125.8 2-115.4 0 101.4 2-4.2 0-99.3 2-20.5 0 114.4 2-113.4 0 117.3 2-118.7 0 117.7 2-105.3 0 115.2 2-7.3 0-107.5 2 113.5 0-111.7 2 111.5 0-128.2 2 127.6 0-124.9 2 5.1 0 127.4 2-114.9 0 109.9 2-15.9 0-97.1 2 5.6 0 95.2 2 25.1 0-104.9 2 107.2 0-108.5 2 98.9 0-102.6 2 92.3 0-99.6 2 3.1 0 107.6 2-113.2 0 108.8 2-116.1 0 120.9 2 0.5 0-115.9 2 110.6 0-107.3 2 101.4 0-104.6 2 109.9 0-110.8 2-12 0 122.7 2-115.8 0 117.8 2-6.8 0-108.6 2 106.8 0-93.4 2 90.4 0-88 2 91 0-101.6 2 103.1 0-110.8 2 126.8 0-122.1 2 111.7 0-111 2-3.6 0 119 2-98.1 0 94 2-108.1 0 103.3 2 1.9 0-120 2 123.8 0-112.3 2 3.8 0 108.7 2-1.7 0-99.4 2-12.3 0 115.1 2 0.5 0-105.9 2-0.9 0 100.6 2 10.9 0-105.8 2-1.8 0 102.6 2-91.9 0 96.8 2 1.6 0-103.9 2 93.2 0-108 2 121.7 0-111.6 2 1.5 0 103.2 2 6.9 0-117.7 2 114.6 0-119.8 2 3.2 0 112.1 2 2.1 0-111.7 2 112.2 0-91.4 2 85.4 0-104.7 2 110 0-99.6 2-10.4 0 110.3 2-96.9 0 93.7 2-1.8 0-95 2-5.4 0 107.6 2-9.4 0-99.6 2-0.7 0 104.8 2-97.1 0 98.1 2-8.9 0-95.8 2-4.5 0 102.7 2-1.7 0-98.9 2-7.6 0 105 2-100.1 0 106.5 2-99.4 0 101.2 2-95.1 0 99.7 2-90.8 0 90 2-89.4 0 94.9 2-91.1 0 87.9 2-91.9 0 97.5 2-5.9 0-87.5 2 87.8 0-93.2 2 92.9 0-92.4 2 90.6 0-96.8 2 83.8 0-65.5 2-23.4 0 104.6 2-95.5 0 93.1 2-90.2 0 98.9 2-90.8 0 82.6 2-1.9 0-75.7 2 78.5 0-87.2 2-4.3 0 96.5 2-90.7 0 89.9 2-1.7 0-88.5 2 78.1 0-79 2 82.6 0-86.3 2-0.4 0 88.7 2-9.4 0-79.9 2 86.4 0-85.9 2 95.2 0-101.6 2 88.7 0-88.6 2-5.9 0 97.2 2-101.3 0 100.9 2-2.1 0-87.9 2-11.3 0 99.8 2-93.1 0 99.4 2-93.5 0 82 2-72.5 0 84.8 2-84.4 0 84.9 2-85.5 0 86 2-83.8 0 94.5 2-3.7 0-96.9 2 7.3 0 85.5 2-1.8 0-85 2 86.4 0-84 2 86 0-87.7 2 83 0-88.9 2 6.7 0 88.9 2-6.7 0-83 2 86.3 0-85.2 2 84.6 0-93.6 2 15.1 0 77.1 2-81.6 0 84.9 2-84 0 91.9 2-8.8 0-83 2 84.5 0-88.5 2 5.2 0 81 2-84.5 0 84.1 2-84.1 0 84.3 2-3 0-92.9 2 91.8 0-88.4 2 3.7 0 92.6 2-92.6 0 84.6 2-3.7 0-82.4 2 86.1 0-85.5 2-7.8 0 92.9 2-1 0-81.8 2 83.6 0-83.3 2 1.4 0 83 2 0.7 0-82.3 2 4.3 0 79.9 2-82.4 0 83.6 2-80.9 0 80.6 2 0.7 0-81.1 2 81.4 0-78.1 2-1.5 0 78.6 2-57.7 0 57.6"/>
</g>
<path d="M209.3 699.1H217.3M204.3 672.5H217.3M209.3 645.8H217.3M209.3 619.2H217.3M209.3 592.5H217.3M204.3 565.9H217.3M209.3 539.3H217.3M209.3 512.6H217.3M209.3 486H217.3M204.3 459.3H217.3M209.3 432.7H217.3M209.3 406H217.3M209.3 379.4H217.3M204.3 352.7H217.3M209.3 326.1H217.3M209.3 299.4H217.3M209.3 272.8H217.3M204.3 246.2H217.3M209.3 219.5H217.3M209.3 192.9H217.3M209.3 166.2H217.3M204.3 139.6H217.3M209.3 112.9H217.3M209.3 86.3H217.3M209.3 59.6H217.3M204.3 33H217.3M312 702V715M467.1 702V715M832.4 702V715M989.7 702V715M1355 702V715M1512.3 702V715M1877.6 702V715M2034.9 702V715M261.3 702V709M360.4 702V709M401.8 702V709M436.8 702V709M624.4 702V709M716.4 702V709M781.7 702V709M883 702V709M924.4 702V709M959.4 702V709M1147 702V709M1239 702V709M1304.3 702V709M1405.6 702V709M1447 702V709M1482 702V709M1669.6 702V709M1761.6 702V709M1826.9 702V709M1928.2 702V709M1969.6 702V709M2004.6 702V709M2192.2 702V709" stroke="#1a1a1a" stroke-width="2.4" fill="none"/>
<path d="M217.3 32V702H2213" stroke="#111" stroke-width="2.4" fill="none"/>
<g font-size="41.5" letter-spacing="1.6" stroke="#000" stroke-width="0.6"><text x="200.1" y="682.8" text-anchor="end">80</text><text x="200.1" y="576.2" text-anchor="end">100</text><text x="200.1" y="469.6" text-anchor="end">120</text><text x="200.1" y="363" text-anchor="end">140</text><text x="200.1" y="256.5" text-anchor="end">160</text><text x="200.1" y="149.9" text-anchor="end">180</text><text x="200.1" y="43.3" text-anchor="end">200</text><text x="312.8" y="752" text-anchor="middle">5</text><text x="467.9" y="752" text-anchor="middle">10</text><text x="833.2" y="752" text-anchor="middle">50</text><text x="990.5" y="752" text-anchor="middle">100</text><text x="1355.8" y="752" text-anchor="middle">500</text><text x="1513.1" y="752" text-anchor="middle">1000</text><text x="1878.4" y="752" text-anchor="middle">5000</text><text x="2036.5" y="752" text-anchor="middle" letter-spacing="2.3">10,000</text></g>
<text x="1214.5" y="838.8" font-size="58" text-anchor="middle">Frequency (/s)</text>
<text transform="translate(89.6 369.6) rotate(-90)" font-size="58.4" text-anchor="middle">Sound Pressure Level (dB)</text>
<text x="1131.5" y="921.5" font-size="44" text-anchor="middle">(<tspan font-weight="bold">a</tspan>)</text>
<path d="M259.2 980.7V1652M358.7 980.7V1652M400.2 980.7V1652M435.2 980.7V1652M623.3 980.7V1652M715.5 980.7V1652M781 980.7V1652M882.5 980.7V1652M924 980.7V1652M959 980.7V1652M1147.1 980.7V1652M1239.3 980.7V1652M1304.8 980.7V1652M1406.3 980.7V1652M1447.8 980.7V1652M1482.8 980.7V1652M1670.9 980.7V1652M1763.1 980.7V1652M1828.6 980.7V1652M1930.1 980.7V1652M1971.6 980.7V1652M2006.6 980.7V1652M2194.7 980.7V1652M215.5 1638H2215M215.5 1615.8H2215M215.5 1593.5H2215M215.5 1549H2215M215.5 1526.8H2215M215.5 1504.5H2215M215.5 1460H2215M215.5 1437.8H2215M215.5 1415.5H2215M215.5 1371H2215M215.5 1348.8H2215M215.5 1326.5H2215M215.5 1282H2215M215.5 1259.8H2215M215.5 1237.5H2215M215.5 1193H2215M215.5 1170.8H2215M215.5 1148.5H2215M215.5 1104H2215M215.5 1081.8H2215M215.5 1059.5H2215M215.5 1015H2215M215.5 992.8H2215" stroke="#f2f2f2" stroke-width="2" fill="none"/>
<path d="M309.9 980.7V1652M465.6 980.7V1652M831.7 980.7V1652M989.4 980.7V1652M1355.5 980.7V1652M1513.2 980.7V1652M1879.3 980.7V1652M2037 980.7V1652M215.5 1571.3H2215M215.5 1482.3H2215M215.5 1393.3H2215M215.5 1304.3H2215M215.5 1215.3H2215M215.5 1126.3H2215M215.5 1037.3H2215" stroke="#e2e2e2" stroke-width="2" fill="none"/>
<clipPath id="clipb"><rect x="215.5" y="978.7" width="1999.5" height="673.3"/></clipPath>
<g clip-path="url(#clipb)" fill="none" stroke-width="2.0" stroke-linejoin="round">
<path stroke="#0000ff" d="M215.7 1249.2l157.7 96 92.2-11.7 65.4 19.9 50.8 24.7 41.5-15.7 35 22.2 30.4-25.9 26.8 30.6 24 3.7 21.7-97.4 19.8-120.3 18.2 22.2 16.8 79.6 15.7 61.2 14.7 29 13.8 19.6 13 19.6 12.3-5.5 11.7-9.8 11.1-5.4 10.5-38.1 10.2 21.8 9.6-47.9 9.3-48 8.9 80.6 8.6 62.1 8.3-17.4 8 28.3 7.7 0 7.5-1.1 7.2-16.4 7 1.1 6.8-8.7 6.6 2.2 6.4 31.6 6.2-138.3 6.1 34.8 5.9 51.2 5.7-6.5 5.7 1.1 5.4 0 5.4 19.6 5.2 62 5.1-51.1 5 0 8.6-98 9.8-103.5 9.8 203.6 7.7-47.9 5.4 26.2 10.9 21.7 7.6-58.8 4.4 76.3 3.2-100.2 3.3 76.2 4.4-89.3 3.2 52.3 3.3-17.4 4.4 39.2 2.1-19.6 4.4 39.2 5.4-10.9 3.3-54.5 3.3 39.2 3.2-78.4 8.7 82.8 4.4-26.1 5.4-25.1 6.6 16.3 5.4 42.5 5.5-112.1 5.4 84.9 3.3 49 3.2-53.4 3.3 19.6 9.8-71.8 3.3 79.4 2.2-151.3 3.2 93.6 6.6 13.1 4.3-34.8 3.3 37 4.3-67.5 7.6 77.3 6.6-52.3 6.5 59.9 5.5 19.6 3.2-94.7 4.4 60.9 4.3-38.1 3.3 33.8 4.4-52.3 6.5 73 4.3-69.7 1 16.7 2-51.6 0 9.1 2 53.5 2-60.5 2 34.6 2 43.9 0-49.4 2 62.2 2-62.1 2 15.3 0-60.3 2 40.1 2 12.2 2-34.6 0 13.2 2-16.2 2 1.5 2 18.2 0 64.5 2-13.6 2-28.6 0 2.9 2-9.4 2 59.6 2-54.5 0-61.1 2-18 2 116.2 0-37.8 2-42.8 2 67.9 0 3.6 2-68.4 2 58.6 0-89.1 2 65.8 2-0.6 0 19.4 2-88.2 0 43.2 2-25.6 2 37 0 37.2 2-36.7 2 50.4 0-49.7 2 32.5 0-12.5 2-81.6 2 65.8 0-87.1 2 72.9 0 43.8 2-115.9 2 73.9 0 43.8 2-7.1 0-53.2 2-13 0 76.7 2-90.6 2 79.5 0-104.1 2 58.1 0-48.5 2 43 0-51.1 2 46.6 0-20.7 2 17.5 2-13.4 0 71.5 2-132.6 0 124.8 2-121.4 0 72.6 2-37.8 0 34 2-40.9 0 57.6 2 55.4 0-34.4 2-63.2 0-17.1 2-43.3 0 151 2-105.1 0 46.2 2-23.4 0 83.4 2-45.2 0-52 2 18.4 0 0.1 2 19.5 0-40.5 2-54.7 0 21.5 2 77.6 0 5.6 2-85.8 0 5.3 2 58.2 0-77.8 2 137.9 0-114.1 2 123.6 0-83.8 2 28.3 0-18 2 55.3 0-59.7 2 49.3 0-47.6 2 35.4 0-112.3 2 34.1 0 93.5 2-85.6 0 33.6 2 31.6 0-87.1 2 53.5 0 62 2-24.8 0-2.4 2-72 0 50.6 2 45.1 0-136.2 2 8.9 0 50.1 2-32.2 0 38.4 2-78 0 23.3 2 1.4 0 97.7 2-5.5 0 17.5 2-109.5 0 50.9 2 62.3 0-133.4 2 106 0 16.3 2-17.2 0-76 2 120.4 0-140.3 2-25.7 0 124.4 2-66.8 0-30.3 2 65.6 0 26.3 2-114.6 0 58.9 2-23 0-34.5 2 64.5 0-53.1 2 61.9 0 28.7 2-20.3 0-29.2 2-32.8 0 82.3 2 10.8 0-112.7 2 119.9 0-24.8 2 30.3 0-112.7 2 49.9 0-58.8 2 81.1 0-67.1 2 102.1 0-94.2 2-46.1 0 39.5 2-22.2 0 51.7 2-89.7 0 82.9 2-84.4 0 119.1 2-88 0 86.7 2-42.8 0-78.1 2 62.8 0 95.9 2-153.7 0 129.8 2 10.2 0-95.4 2 45.4 0-66.7 2 109.8 0-106.7 2-7.5 0 117.2 2-88.1 0-33.4 2 136.5 0-157.3 2-1.5 0 151.8 2-100.8 0 116.8 2-93 0 91.9 2-111 0 80.9 2-114.9 0 112.7 2-118.6 0 51.1 2-28.9 0 122.8 2-134.6 0 117 2-31.6 0-89 2 3 0 110.7 2-14.2 0-79.9 2 74 0-138.3 2 143.2 0-29.1 2-113.8 0 113.6 2-1.8 0-115.3 2 88.1 0 80.5 2-115.4 0 116.3 2-163.7 0 116.3 2-88.5 0 113.1 2-131.3 0 151.1 2-103.9 0 96.8 2-177.1 0 141.6 2-59 0-67.5 2-0.1 0 150.4 2-106.3 0 80.9 2-3.3 0-131.5 2 163.5 0-39.7 2 23.1 0-87.4 2 101.6 0-129 2 25.4 0 61.5 2 44.3 0-144.8 2 78.9 0-110 2 179.8 0-177.6 2 137.6 0-128.6 2 152.9 0-56.3 2-76.8 0 82.6 2-75.8 0 134.9 2-21.1 0-104.6 2 115.6 0-130.3 2 129.8 0-90.9 2 4.5 0-88.2 2 158.7 0-140.2 2 156.4 0-144.5 2-34.2 0 149 2 22.1 0-98.4 2-4.6 0 96.9 2-164.4 0 120.9 2 28.9 0-80.6 2 76.2 0-106.6 2 10.5 0 109.5 2-168.1 0 159.3 2 3 0-131 2 84.9 0-89.8 2-0.7 0 104.7 2 21.4 0-121.4 2 122.8 0-114.9 2 17.6 0 62.8 2 35.1 0-161.4 2 3.4 0 150.6 2-107.3 0 114.5 2-15.4 0-98.6 2 91.1 0-132.3 2 14.6 0 127.7 2-11.9 0-108.7 2 6.6 0 124.9 2-4.1 0-108.5 2-7.5 0 109 2-148.4 0 141.8 2 12.2 0-111.3 2 9.1 0 102.6 2-1.7 0-130.2 2 33.8 0 95 2-138.7 0 134.6 2-147.2 0 159.5 2-45.1 0-122.2 2 177.4 0-92.3 2-50.4 0 113.1 2-93.4 0 107.4 2 1.4 0-139.8 2 117.7 0-138.3 2 144.1 0-114.9 2 106.6 0-100.8 2 20.6 0 99.9 2-150.4 0 137.6 2 17.2 0-125.4 2 54.3 0-80.8 2 29.3 0 88.3 2 42.3 0-150.1 2 140.5 0-119.2 2 117 0-80.7 2 77 0-110.4 2 125.3 0-172.5 2 156.8 0-91 2-23 0 132.1 2-102.2 0 92.9 2-20.4 0-103.5 2-36.9 0 130.3 2-64.3 0 83.8 2 3.6 0-106.6 2 103.6 0-160.3 2 173.6 0-128.9 2 2.2 0 90.8 2 11.3 0-100.7 2 1.5 0 97.6 2-77.7 0 102.3 2-106.5 0 73 2 18.6 0-88.9 2-20.2 0 130.4 2-108.1 0 89.7 2 10.2 0-116.6 2-8.4 0 96.6 2 18.4 0-149.8 2 152.6 0-103.2 2 95 0-101.1 2 123 0-113.5 2 112.2 0-116.6 2 109.6 0-153.4 2 145.9 0-91.5 2 97.7 0-93.5 2-4.6 0 96.1 2-0.2 0-99.8 2 106.2 0-114.2 2 109.9 0-59.7 2-19.1 0 90.1 2-9.2 0-100.7 2 15.6 0 72.6 2 24.2 0-130.9 2 107.3 0-134.6 2 144.7 0-103.1 2 92.9 0-137.2 2 47.5 0 106.6 2-106.3 0 97 2 28.1 0-121.7 2-8.5 0 101.2 2 20.1 0-117 2 105.8 0-106.9 2-7.2 0 99.2 2-90.3 0 101.1 2 21.7 0-144.3 2 130.2 0-103 2 2.4 0 98.1 2 11.1 0-111.6 2 92.9 0-98 2-3.1 0 96.9 2-95.7 0 110.8 2-156.5 0 160.3 2-142.6 0 115.6 2-74.6 0 113.4 2-108 0 93.5 2-145.1 0 135.8 2 20.2 0-159.9 2 142.8 0-93.8 2 105 0-85.3 2 74.1 0-96.7 2 108.7 0-135.6 2 126.9 0-148.2 2 153.1 0-144.3 2 21.7 0 130.2 2-7.4 0-136.6 2 142 0-117.3 2 114.2 0-111.1 2 15.3 0 93.3 2 3.2 0-119.9 2 118.6 0-109 2 24.1 0 83.8 2 1.9 0-107.7 2 107.6 0-91.9 2-32.5 0 127.4 2 15 0-97.6 2 79.4 0-104.3 2 109.6 0-124.4 2 20 0 103.9 2-1.4 0-87.7 2-40.2 0 137.8 2-114.4 0 75.7 2 47.3 0-142.3 2 123.7 0-104.4 2 15.1 0 89.1 2 8.9 0-114.7 2 120.3 0-137.1 2 146.5 0-112.2 2-44.1 0 131.4 2-96.4 0 100.5 2 2.1 0-104.2 2 103.3 0-105.3 2 89.9 0-91.4 2 12.4 0 95.2 2-115.6 0 127.3 2-11.4 0-110.5 2 18.8 0 102.6 2-120.1 0 106 2-100.9 0 90 2 10.1 0-105 2 119.5 0-148.6 2 143 0-154.5 2 14.3 0 136.3 2-109.4 0 117.7 2-9.6 0-146.5 2 45.2 0 114.1 2-153.7 0 145 2 0.8 0-122.4 2 119.8 0-100.7 2-1.9 0 99.9 2-101.3 0 122.6 2-157 0 127.4 2-91.3 0 102.6 2 4.5 0-104.5 2-13.6 0 116.4 2-99.9 0 101.2 2 9.1 0-144.2 2 125 0-88.3 2 111.3 0-107.2 2 108.3 0-114.3 2-0.9 0 117.4 2-11 0-105.3 2-6 0 121.3 2 0.3 0-107.6 2 93.5 0-109.2 2 2.3 0 113.3 2-16.5 0-98.1 2 97.3 0-97.6 2 2.9 0 107.9 2-127.6 0 146.4 2-125.1 0 121.4 2-115.8 0 114 2-12.1 0-106.2 2 8.4 0 96.1 2-104.2 0 117.9 2 8.9 0-127.7 2-6.4 0 126.4 2-18.4 0-105.4 2 1.2 0 115.5 2-117.5 0 109.6 2-110.7 0 129 2-142.4 0 123.6 2 3.2 0-104 2-4.8 0 108.9 2 7.6 0-113 2 106 0-99.1 2 112.5 0-163.4 2 149.4 0-110.2 2 0.1 0 117.8 2-143.2 0 149.9 2-10.3 0-148.6 2 142.3 0-107.5 2 110.1 0-108.4 2-1.2 0 107.7 2 8.1 0-116.1 2-2.2 0 122.7 2-155.5 0 142.8 2-97.8 0 99.1 2-6.3 0-94 2-4.6 0 107.8 2-146 0 149.1 2-139.4 0 138.9 2-131.4 0 143.4 2-10.9 0-99.7 2-4.2 0 88.4 2-93.4 0 103 2-100.1 0 102.5 2 11.5 0-153.3 2 142.6 0-130.3 2 19.5 0 108.9 2-117.3 0 114.5 2 5.5 0-109.5 2-1.2 0 101.3 2-102.2 0 110.1 2-111.7 0 119.7 2-114.4 0 112.7 2-138.9 0 133 2-107.8 0 107.5 2-3.8 0-144.5 2 40.5 0 109.1 2-2.2 0-111.2 2-26.9 0 136.1 2-3.9 0-120.5 2-3 0 125 2-111.1 0 119.8 2-141.1 0 136.4 2-125.8 0 134.2 2-111.7 0 120.3 2-12.1 0-137.8 2 137.9 0-112.8 2 110.4 0-107.5 2-1.9 0 109 2 1.5 0-107.8 2 0.1 0 108.1 2-1.4 0-112.4 2-31.2 0 137.5 2-100.5 0 114.3 2-3.3 0-117 2 115 0-111 2 111.4 0-113.9 2-35.7 0 148 2-114.2 0 114.2 2-144.2 0 142.1 2-115.7 0 138 2-11.1 0-112.2 2 112.3 0-107.6 2 103.5 0-112.6 2 126.1 0-124.2 2 109.5 0-135.1 2 131.9 0-112.5 2 111.9 0-111.6 2 111.6 0-128.4 2 16.3 0 132.6 2-141.3 0 119.7 2 11.1 0-120 2 113.4 0-112.7 2-6 0 120.4 2-1.9 0-143.7 2 28.3 0 115.8 2-153.2 0 153.8 2-111.4 0 111.9 2-105.9 0 104.3 2-106 0 110.3 2-111.6 0 112.4 2 13 0-128.3 2 114.3 0-116.6 2 113.8 0-118.3 2 0.2 0 133.2 2-17.5 0-117.2 2 118.6 0-120.2"/>
<path stroke="#ffc000" d="M215.7 1426l157.7 48 92.2-160.4 65.4 101.9 50.8 32.5 41.5-27.2 35 68.6 30.4 41.7 26.8 18.6 24 16.7 21.7-14.9 19.8-86.2 18.2 13.9 16.8 35.2 15.7-65.8 14.7-15.9 13.8 95.7 13-67.5 12.3-71.8 11.7-74.1 11.1-52.2 10.5-48 10.2 174.3 9.6 154.6 9.3-91.5 8.9-13.1 8.6 4.4 8.3 24 8 39.2 7.7 47.9 7.5 10.9 7.2 41.3 7 19.6 6.8-132.8 6.6 102.3 6.4-10.9 6.2 4.4 6.1 0 5.9-4.4 5.7-58.7 5.7 19.5 5.4-60.9 5.4-119.8 5.2 87.1 5 131 6 16.9 4-43 4 47.1 6-57.7 4-66.5 4 99.2 6 32.8 4-21.2 4-10.2 4 16.1 4 48.1 4-31.3 4-9.9 4 8 4-27.6 4-4.4 4 52.1 2-69.3 4-66.2 4 3.8 4 108.5 2-29.3 4 21 4-26 2 14.8 4 23.4 4-8.6 2-14.4 4-16.9 2 40.2 4-38.5 2 27.6 4 9.3 2-12.3 2-129.1 4 131 2-42.9 4-47.5 2 68 2-18.4 4 50.3 2-24.1 2-4.6 4 5 2-7.1 2-64.8 2 42.9 4 30.7 2-13.3 2 5.9 2-46.6 2 49.5 4-24.5 2-69.6 2 106.2 2 9.8 2-80 2 54.7 2-53.1 2 33.7 4-34.3 2-65.2 2-13.8 2 134.4 2 7.5 2-55.9 2 23.1 2-26.7 2 26.2 2 29.6 2-78.8 2 17 2 57.4 2-49.4 2-78.7 2 75.4 0 11.9 2-34.7 2 65.3 2-55.1 2 56.8 2-91.3 2-1.3 2 87.6 2-79.9 2-25.1 0 118.9 2-7.5 2-33.9 2-11.1 2-12.3 2-90.7 2 24.3 0 100.9 2-19.2 2-57.8 2-11.5 2 116.6 0-21.8 2-72.7 2 6.4 2-2.6 0 33.9 2 28.2 2-7.7 2-148 2 83.7 0 46.7 2 18.1 2-125.3 0 97.1 2-83.2 2 103.6 2-117 0 80.6 2-74.2 2 110.7 0-104.9 2 85.6 2-3.5 2-44.2 0-19.8 2 0.2 2 42.2 0 14.3 2 34.3 2-147.2 0 62.6 2-21 2 65.6 0 26.7 2-34.1 0-67.3 2 3.1 2-17.9 0-2.1 2 120.1 2-100 0 31.4 2 58.1 0-73.8 2-66 2 72.8 0-56.3 2-10.3 0-5 2 50.1 2-5.7 0 61.5 2-85.3 0-10.1 2 23.3 2-2.3 0-21.7 2 103.9 0-20.9 2-20.5 0-50.4 2 67.8 2-11.7 0 27.3 2-100 0 96.5 2-60.2 0-18.4 2-0.8 0 49 2 39.2 0-29.6 2-120.5 0 113.5 2 38 2 3.6 0-24.8 2-74.8 0-16.9 2 50.1 0 23.6 2 0.1 0-27.4 2 25.8 0 5.4 2-83.2 0-41.7 2 133.2 0-97.7 2 15.8 0 41 2-72.7 0 6.9 2 52.5 0-86.4 2 24.2 0 87 2 19.6 0-69.1 2 7.8 0 30.1 2-12.4 0 51.4 2-129.1 0 105.9 2-94.7 0 83.5 2-69.4 0 36.6 2-36.2 0 8.5 2 54.1 0-4 2-114.3 0 83.3 2 55.6 0-61.8 2-61.3 0 91.6 2-56.4 0-17.6 2 7.5 0 40.2 2-79.1 0 76.6 2-86.9 0 81.4 2 10 0-54.3 2 26.4 0 82.8 2-91 0 75 2-59.8 0 17.6 2-67.3 0 84.9 2 42.1 0-15.6 2-85 0 100.6 2-4.1 0-110 2 11.3 0 47 2 28.1 0-142.2 2 100.9 0-104.2 2 41 0 130.1 2-74.3 0 77.6 2-66.9 0-28.2 2-55.8 0 70.5 2-1.2 0-14.1 2-53.8 0 35.7 2 21.1 0-76.8 2 117.3 0-133.9 2 175.3 0-59 2 26.6 0-139.4 2 163.9 0-173.6 2 86.4 0-47.5 2 140.1 0-106.7 2 72.8 0-88.2 2 122.7 0-173.9 2 64.2 0-25.2 2 40.5 0 48.9 2-64.2 0 70.3 2-135.4 0 88.4 2-102.9 0 142.2 2-39.4 0-70.1 2 150.7 0-184.6 2 77.2 0 112.5 2-38.5 0-53.6 2 92.5 0-182.8 2 168.4 0-141.8 2 67.6 0-80.6 2 14.4 0 97.9 2 37.6 0-165.4 2 25.3 0 115.2 2-151.1 0 159.1 2-86 0 52.1 2 60.2 0-131.6 2 134 0-98 2 79.7 0-176.4 2 75.3 0 121.4 2-1.5 0-89.9 2 45.1 0-135.8 2 66.1 0 69.5 2-109.9 0 54.4 2-96.4 0 127.7 2-66.7 0 117.5 2-106.6 0 13.4 2 56.6 0-66 2 43.9 0-66.4 2 104.4 0-177.3 2 51.9 0 111.1 2 24.6 0-109.3 2 100.7 0-172.7 2 12.6 0 122.2 2-37.4 0-100.5 2-8.6 0 172.9 2-141 0 85.7 2 65.8 0-179.6 2 112.1 0-90.2 2-23.6 0 180 2-177.9 0 164 2-134.3 0 150.7 2-162.4 0 82.8 2-79.4 0 125.7 2-63.1 0 79.7 2-171.8 0 115 2 30.5 0-125.8 2-30.3 0 164.7 2-147.3 0 145.4 2 28 0-122 2-44.1 0 141.3 2-58.4 0-54.4 2 109.6 0-92.7 2 99.6 0-130.2 2-21.8 0 88.7 2 35.3 0-119.3 2-25.7 0 120.5 2-48.4 0 102.4 2-143.8 0 122.8 2 34.9 0-141.7 2 92.6 0-99.5 2 144 0-131.6 2 75.4 0-111.1 2 136.8 0-127.9 2-6.7 0 145.4 2 20 0-204.5 2 189.9 0-159.7 2 12.3 0 137.7 2 7.3 0-160.4 2 152.7 0-121.2 2 116.3 0-113.6 2-45 0 172.5 2-188.7 0 179.4 2-145 0 143.3 2-73.6 0-105.1 2 70.6 0 73.9 2-132.3 0 148.2 2-121.1 0 97.5 2-57 0 85.5 2-13.1 0-112.3 2-8.7 0 148.4 2-5.2 0-147.3 2 1.3 0 95.2 2-71.5 0 91.8 2-145.3 0 138.8 2-133.3 0 147.8 2-128.7 0 143.4 2 15.8 0-179.6 2 169.7 0-148.5 2 162.4 0-121.9 2-53.2 0 163.6 2-131 0 135.7 2-140.7 0 125.8 2-140 0 98.2 2-123.5 0 154.2 2-169.1 0 193.7 2-45.1 0-113.3 2-3.2 0 154.9 2-10.9 0-110.5 2-39.1 0 159.5 2 16.7 0-174.2 2 155.7 0-128.6 2 54.5 0-83.6 2 150.2 0-144.5 2-34.1 0 203.3 2-10.3 0-174.4 2 17.7 0 149.7 2-150.2 0 123.4 2 20.4 0-162.5 2 155.6 0-125.6 2 138.9 0-141 2-9.9 0 111.7 2 56.2 0-162.2 2 116.1 0-142.2 2 175 0-126.8 2 87.1 0-118.6 2-11.1 0 166.7 2-141.6 0 143.1 2-166.5 0 165 2 1.3 0-150.2 2 25.7 0 119.1 2-113.8 0 115.5 2 2.7 0-186.7 2-1.4 0 183 2 13.1 0-160.9 2-13.2 0 179 2-174.4 0 138.4 2 17.4 0-153.3 2-31.4 0 192.7 2 10.2 0-224.8 2 4.8 0 190.1 2 27.4 0-209.5 2 41.8 0 176.1 2-11.9 0-170.7 2-2.8 0 153.7 2-27.7 0-141.3 2 28.8 0 151.9 2 5 0-139.2 2 70.9 0-114.1 2 154.6 0-170.2 2 186.9 0-161.1 2 123.2 0-165.4 2 19.9 0 201.4 2-1.8 0-230 2 235.4 0-221.6 2 172.2 0-158.1 2 196.6 0-189.5 2 193 0-169.5 2 159.9 0-211.7 2 23.8 0 166.6 2-67.2 0-99.7 2 193.7 0-130.1 2-42.5 0 147.8 2-147.8 0 193.4 2-37.7 0-170.2 2-6.2 0 195.1 2-0.5 0-155.3 2-62.5 0 222.8 2-159.2 0 126.9 2 29.7 0-196.5 2 182 0-181 2 0.3 0 160.3 2-165.2 0 203 2-34.2 0-188.7 2 209.8 0-220.9 2 223.1 0-192.4 2 201.8 0-234.1 2-2.9 0 238 2-2.3 0-188.5 2-31.9 0 222.9 2-196.2 0 186.1 2-222.2 0 220 2-167.8 0 158.8 2-187.7 0 183.5 2-172.7 0 183.9 2 5 0-190.4 2-12.8 0 201.5 2-169.5 0 173.8 2-181.7 0 181.4 2 2.1 0-200.3 2 199.7 0-179.6 2 170.1 0-183.2 2 199.4 0-188.8 2-32.9 0 215.2 2 3.5 0-227.6 2 227.2 0-197.4 2 5 0 169.1 2 14.3 0-165.8 2-20.3 0 186.2 2-169.3 0 179.6 2-197.6 0 196.7 2-197.1 0 187.8 2-191.2 0 208.6 2-15.3 0-191 2 207.8 0-220.1 2 8.4 0 206.1 2-11.8 0-194.4 2-18.3 0 194 2-2.9 0-157.3 2 189.3 0-196.9 2 189 0-221.3 2 242.4 0-211.2 2 157.8 0-145.5 2-47.7 0 226 2 8.7 0-221.9 2 204.1 0-187 2-7.8 0 229 2-197.8 0 179.6 2-27.9 0-170.8 2 185.7 0-182.2 2 152.3 0-156.9 2-2.5 0 200.8 2-9.2 0-191.1 2 168.2 0-167.2 2 193 0-171.1 2-50.6 0 222.7 2 17 0-216.9 2 197.7 0-191 2 0.2 0 193.7 2-192.4 0 196.9 2-8.8 0-185 2-26.4 0 232.5 2-205.1 0 205.9 2-49.6 0-162.8 2 11 0 183.7 2-196.4 0 208.5 2-224 0 227.7 2-214.6 0 222 2-228.3 0 220.1 2-208 0 193.6 2-187.6 0 192.4 2-216.8 0 222.8 2-207.8 0 202.7 2 1 0-204.7 2-24.5 0 224.6 2-188.9 0 194.7 2-182.3 0 183.4 2-0.8 0-197.2 2 197.2 0-205.5 2 34.2 0 174.2 2-213.1 0 175.3 2-165.2 0 185.7 2-186.9 0 203.4 2-219.9 0 218.9 2 10.9 0-211.3 2 215 0-208.9 2 194.5 0-216.3 2 226.8 0-198.2 2 209.7 0-215.7 2 190.5 0-186 2 198.6 0-206.6 2 207.2 0-215.1 2 4.4 0 198.6 2 0.8 0-197.7 2-25.2 0 212.1 2-176.6 0 191.7 2-193 0 182 2 8.7 0-199.6 2 4 0 194.7 2-176.9 0 172.2 2-192.3 0 195.4 2 8.8 0-212.1 2 206.4 0-180.9 2-30.6 0 199.1 2-204.2 0 217.9 2-13.4 0-192.2 2 201.5 0-187.8 2 202.3 0-210.3 2 13.4 0 199.3 2-13.5 0-194.3 2 205.4 0-225.5 2 215.2 0-202.3 2 10 0 200.9 2-4.1 0-185 2-2.7 0 185.7 2 15.2 0-203.2 2 2.3 0 187.3 2 3 0-183 2 7.1 0 186 2-9 0-189.5 2-4.5 0 198 2-192.7 0 188.8 2 11.3 0-206.4 2 23.2 0 164 2-6.1 0-162.9 2 184.8 0-211.7 2 25.3 0 182 2-8.5 0-196.3 2 16.5 0 175.7 2 2 0-173.2 2 188.6 0-190 2 181.2 0-185.6 2 190.8 0-185.4 2 190.8 0-204.9 2 4.4 0 185.1 2-171.4 0 175.1 2-14.6 0-189.4 2 3.6 0 190.4 2-175.4 0 183.4 2 5.8 0-189.3 2 2.6 0 186 2 6.9 0-187.1 2-12.3 0 195 2-184.5 0 191.7 2-185.5 0 180.8 2-189.6 0 185 2-174.1 0 181.6 2 7.2 0-200.6 2 180.8 0-175.2 2 7.3 0 176.8 2 1.9 0-190.3 2 180.7 0-164.7 2 164.7 0-170.9 2 175.8 0-187.2 2 3.7 0 182.6 2-4.8 0-190.9 2 21.8 0 178.8 2-194.8 0 190.9 2-3.8 0-172.9 2 176.9 0-171.6 2 9.3 0 163.3 2-167.7 0 175.4 2-170.7 0 170.3 2-181.8 0 173.4 2 2.5 0-177.7 2 14.6 0 162.8 2 18.4 0-201.4 2 183.1 0-170.2 2 172.3 0-177.9 2 168.6 0-180 2 3.1 0 186.9 2-174.3 0 175.1 2 2.5 0-166.9 2 174.5 0-176.3 2 6.2 0 161.2"/>
<path stroke="#00ff00" d="M215.7 1363.9l157.7 68 92.2 59.7 65.4 10.5 50.8 32.8 41.5-23.3 35 6.5 30.4 11.2 26.8-27.9 24 20.4 21.7-17.6 19.8-136.3 18.2 22.3 16.8 85.3 15.7 7.4 14.7 31.9 13.8 22.1 13-47.7 12.3-52.2 11.7-61 11.1-54.4 10.5-52.3 10.2 150.2 9.6 24 9.3-61 8.9 113.3 8.6 10.9 8.3-2.2 8 28.3 7.7 32.7 7.5-15.3 7.2 19.6 7-10.9 6.8 19.6 6.6-8.7 6.4-10.9 6.2-141.5 6.1 82.7 5.9 26.2 5.7 37 5.7 8.7 5.4 28.3 5.4-24 5.2 8.7 5.1 0 5-21.7 5 19.1 4 19.6 6-38.1 4-116 4 133 4 0.4 6-5.1 4-13.2 4 11.7 4-7.6 4 11.4 4 17.3 4-13.2 4-2 4-8.2 2 5.9 4 2 4-3.9 4 6.5 4-14.6 2-7.4 4 5.3 4 2.8 2 6.6 4 3.5 2-5.8 4 0.1 4-93.4 2 99.5 4-38.8 2 37.1 4-8.3 2-20.3 2 34.6 4-19.5 2 6.5 4-1.2 2-48.7 2 62.6 4-90 2 49.7 2 10.4 4 15.8 2 23.1 2-36.7 2 56.2 4-64.6 2 29.7 2 6.9 2 2.5 2 27.6 4-18.3 2-82.5 2 80.9 2-24.8 2-27.4 2 14.4 2 7 2-15.8 2 54.5 4-29.5 2-68.5 2 31.3 2-16.2 2 65 2 21.2 2-72.4 2 80.6 2-38.6 2-53.3 2 77.1 2-74.9 2 62.3 2 9.9 2-19.4 0 9.2 2-39.1 2 30.9 2-67.3 2 70.5 2-31.1 2-49.8 2-12.8 2 26.9 2-39.5 0 10.6 2 50.4 2-32.8 2 24.5 2-25.3 2-11.4 0 80.1 2 14.4 2-10.7 2-37.3 2 29.2 2-5.6 0-3.4 2-9 2 23.7 2-22.7 0-38.3 2 18 2 69.1 2-23.9 0-85.7 2-26.1 2 132.5 2-51.2 0 14.1 2-69.1 2-17.5 2-13.9 0 19.8 2 103.8 2-96.6 0 9.4 2-9.2 2 73.8 0-23.5 2-38.2 2 62.7 2-28.1 0-43.1 2 80.4 2-129.4 0 19.9 2 49.6 0 3.2 2-19.7 2-7.4 0-11.7 2-28.6 2 120.3 0-91.9 2 20.7 2 15.6 0-49.3 2-19.8 0 33.5 2 33.8 2-38.8 0 58.2 2-0.9 0 14.8 2-18.1 2-23.5 0-74.7 2 105.9 0-29 2 16 2-40.4 0 8.8 2-41 0 119.1 2-19 0-72.5 2 55.3 0-81.6 2 73.9 2-48.3 0-6.9 2 99.3 0-107.4 2 120.4 0-36.5 2-79.9 0 16.9 2-53.5 0 68.9 2-28 0 47.4 2-83.5 2 87.4 0-79.9 2 124.9 0-36.5 2-21.6 0-25.9 2 38.8 0-62.1 2-4.3 0 108.2 2-94.5 0-28.5 2 123.1 0-89.8 2 24.7 0-17.9 2-71.5 0 59 2 114.2 0-156.3 2 136.9 0-108.6 2 96 0-60 2 69.2 0-78.4 2 90.4 0-113.5 2 30.5 0-47.4 2-3.1 0 3.7 2 45.1 0-4.5 2-44.6 0 51.3 2-84.9 0 121.2 2-116.4 0 143.9 2-47.5 0-7.5 2-81.4 0 59.4 2 32.3 0 22.3 2-93.6 0 24.4 2 29.7 0-64 2 3.2 0 26.6 2 27.6 0 31.8 2-112.5 0 74.9 2-42.1 0 97.4 2-16.3 0-64.6 2 56.2 0-62.2 2 106.2 0-98.6 2 37.8 0 59.2 2-112.3 0-37.2 2 173.8 0-120 2 17 0-81.9 2 149.9 0-126.7 2-26.5 0 116.3 2-84.8 0-41.8 2 124.4 0-81.7 2-38 0 113.6 2 63.3 0-140 2-38.5 0 131.9 2-75.6 0 75.4 2-84.7 0 72.3 2-74.3 0 70.7 2 54.6 0-109 2-26 0 58.2 2-66.2 0 128.9 2-106.1 0 20.5 2 52.6 0-119.2 2 149.8 0-159.9 2 126 0-100.7 2 35.2 0-35.5 2 69.1 0 43.3 2-8.2 0-94.9 2-40.4 0 150 2-52.2 0-98.2 2 131.5 0 37.1 2-54.6 0-65.8 2 137 0-138 2 64.9 0-99.3 2 58.4 0-51.9 2 30.4 0 58.8 2-120.4 0 68.8 2 68.1 0-73.2 2 83.3 0-110 2 104.3 0-135.5 2 172.8 0-91.8 2 50.3 0-90.2 2-45 0 70.4 2-86.3 0 159.7 2-53.3 0 59.5 2-108.5 0-55.5 2 97.6 0-80.5 2 128.6 0-128.6 2 74.7 0 98.4 2-158.1 0 40.6 2 81.2 0-89.1 2-29.9 0 78.2 2 17.7 0-126.7 2 28.3 0 88 2-39.9 0 118.3 2-83.5 0 41.6 2-115.3 0 89.6 2-122.1 0 143.5 2-118.9 0 155 2-188.9 0 153.2 2-59 0-103.4 2 218.9 0-149.8 2-53.5 0 110.1 2-10.5 0-66.8 2 164.6 0-201.7 2 182.2 0-174 2 143.4 0-112.7 2 101.8 0-121.4 2 159.6 0-193.1 2-6.9 0 130.9 2-79.8 0-28.3 2-13.4 0 91.5 2-43 0 100.4 2-149.6 0 152.6 2-139.5 0 93.9 2 73.8 0-164.5 2 7.8 0 108.4 2 17.9 0-134.5 2 191.5 0-219.1 2 11.7 0 152.7 2-160.6 0 104.3 2-72.8 0 112.7 2-111.2 0 58.7 2-94.5 0 120.1 2 39.5 0-99.6 2-58.3 0 178.8 2-157.6 0 125.3 2 62.3 0-151.5 2 141 0-159.1 2-45.5 0 187.1 2-15.7 0-141.2 2 139.1 0-117 2 78.8 0-86.2 2-28.4 0 135.7 2-6.2 0-85.9 2 54.3 0-80.6 2 6.6 0 116.2 2-107.2 0 93.2 2 36.5 0-153.1 2-18.5 0 140.4 2-99.9 0 155 2-49.1 0-145 2 31.1 0 153.1 2-190.5 0 182.1 2-6.3 0-121.2 2-63.5 0 152 2-143.6 0 145.5 2-127.7 0 139.6 2-15.7 0-135 2 138.6 0-154.9 2 31.5 0 116.4 2-5.5 0-118.9 2-25.7 0 174.9 2 21.6 0-117.2 2 72.7 0-145.2 2 33.7 0 143.8 2-77.5 0-86.1 2 153.7 0-132.2 2-31.1 0 137.1 2-2 0-112.6 2 108.5 0-65 2-65.5 0 86.9 2-81.1 0 118.4 2 4.5 0-117.7 2-14.5 0 103.1 2 29.4 0-120.3 2 187 0-183.5 2 13.9 0 137.7 2-165.4 0 134.3 2-41.1 0-91.6 2 41.2 0 151.5 2-5.8 0-194.2 2 31.8 0 66.6 2 13.2 0-89.9 2-0.6 0 136.5 2 45.7 0-159.6 2 106.8 0-90.5 2 80.1 0-124.9 2 29.6 0 94.2 2 3.5 0-139.2 2 154.6 0-132.2 2 82.2 0-86.9 2 23.8 0 93.5 2-120.5 0 165.1 2-165.9 0 122.7 2-4.7 0-124 2 145 0-130.3 2 87.2 0-96.8 2 128.7 0-128.4 2 130.6 0-110 2 102.6 0-121.5 2 105.6 0-104.7 2 146.5 0-161 2-7.9 0 137.9 2 18.3 0-121.8 2 105.7 0-108 2-17.8 0 87.3 2 47.1 0-127.9 2-5.1 0 107.4 2 19.6 0-127 2 5.5 0 115.3 2-119.3 0 121.5 2-71.5 0 67.5 2 33.1 0-140.5 2 124.5 0-125.5 2-13.8 0 139.4 2-128 0 127.4 2 25.9 0-138.6 2 100 0-132.7 2 27.1 0 107.6 2 0.2 0-134.1 2 42.3 0 127.2 2-136.2 0 82.3 2 20.4 0-135.8 2 42.3 0 100.7 2-119.5 0 151.6 2-40.3 0-129.5 2 154.1 0-127.8 2-38.6 0 150.1 2-8.6 0-113.4 2-2.9 0 111.9 2 7.5 0-130 2 137.7 0-131.6 2 115.8 0-126.5 2-2.6 0 177.3 2-47.5 0-131.6 2 124 0-128.3 2 10 0 136.5 2-126.9 0 147.5 2-142.3 0 125.7 2-11.5 0-149.1 2 24.6 0 123.1 2-11.2 0-109.9 2-2 0 135.7 2-141.6 0 141 2-137.3 0 119.1 2 2.1 0-112.9 2 126.9 0-150.5 2 180.7 0-168.8 2 8.1 0 145.9 2-148.8 0 133.5 2-137.3 0 140.3 2-136.7 0 137.1 2 14.5 0-162.2 2 147.2 0-150.2 2 176.5 0-141.5 2 142 0-172.1 2 12.1 0 166.6 2-166 0 131.1 2-119.9 0 105.4 2-113.3 0 124.9 2-8.4 0-120.7 2 131.3 0-142.8 2 11.5 0 130 2-126.9 0 125.7 2-119.5 0 131.9 2 14.4 0-166.7 2 13.9 0 130.2 2-9 0-120.9 2 133 0-129 2 123.7 0-120.7 2 114.8 0-141.9 2 19 0 137.3 2-141.5 0 128.9 2-124.2 0 101.2 2 38.1 0-134.6 2-5.8 0 146.3 2-16.9 0-117.5 2-35.3 0 185.7 2-176.2 0 137.5 2-12.1 0-110.8 2 146.7 0-148.5 2-12.3 0 141.5 2 33.5 0-167.8 2 136 0-156 2 10.5 0 138.2 2 8 0-148.2 2 185.4 0-169.4 2-1.3 0 146.6 2-17.3 0-125.5 2 4.5 0 115.7 2-113.9 0 129 2-127.5 0 127.9 2-2.3 0-127.1 2-5.2 0 160.5 2 1.6 0-154.8 2 127.8 0-145.1 2 141.6 0-146.9 2 12.8 0 134.9 2-152.6 0 161 2-19.2 0-143.2 2 180.9 0-159.3 2 134 0-156.5 2 150.4 0-136 2-13.3 0 129.3 2 19.6 0-126.4 2 158.9 0-167.1 2 4.6 0 126.6 2 2.5 0-126.2 2 3.4 0 126.3 2-1.4 0-127.1 2 11.5 0 122.7 2-1.3 0-131.3 2 3.7 0 162.6 2-23.4 0-169.2 2 158.7 0-137.6 2-0.8 0 131.3 2 1.7 0-128.2 2-2.4 0 158.7 2-163.2 0 141.2 2-9.2 0-145.7 2 151.9 0-138 2 159.1 0-173.9 2 4.4 0 130 2-133.8 0 148.7 2-134.5 0 161 2-23.4 0-123.7 2-11.5 0 143.6 2-153 0 149.7 2-130.2 0 158.3 2-171.2 0 126.9 2 14.1 0-156 2 158.4 0-151.6 2 15.1 0 132 2-126.1 0 131.3 2-131.4 0 151.3 2-153.3 0 152.1 2-157.1 0 148.6 2 4.9 0-149.9 2 131.8 0-141.9 2 3.4 0 166.5 2 6.2 0-169.3 2-0.9 0 139.7 2 1.8 0-143.8 2 4.1 0 140.7 2-1.6 0-134.2 2 127.1 0-128.3 2-24.3 0 155.3 2-149 0 152.9 2 0.5 0-141.5 2 141.3 0-151.5 2 183.8 0-171 2 153.2 0-145.8 2 113.8 0-137.8 2 160.7 0-142.5 2 142.1 0-160.8 2 16.6 0 145.4 2 30.3 0-177.2 2 1.5 0 130.9 2 33.2 0-163.6 2-0.7 0 144.7 2-143.8 0 167.3 2-168.9 0 174.3 2 1.7 0-168.6 2 135.6 0-141 2-9.3 0 149.5 2-157.8 0 161.3 2-165.7 0 163 2-135.4 0 142.2 2-10.5 0-134.1 2 147 0-143.8 2 2.7 0 158.9 2-9.3 0-150.1 2 135.1 0-139.7 2-8.4 0 176.4 2-31.5 0-134.2 2 144.6 0-141.7 2 166.9 0-170.4 2 165.5 0-181.2 2-3.1 0 148.6 2 6.7 0-155.2 2 13.5 0 145.7 2-148.4 0 152.7 2 11.9 0-170.9 2 143.9 0-134.2 2-3.9 0 136.7 2 18.8 0-152.2 2 0.3 0 143.9 2 4.5 0-149.4 2 0.5 0 167.8 2 5.8 0-172.8 2 9.2 0 151.5 2-158.1 0 164.7 2-5.2 0-148.8 2-6 0 143 2 8 0-149.1 2 136.2 0-135.9 2-6.4 0 150.9 2-144.6 0 136.8 2-141.7 0 147.4 2-0.3 0-148.8 2 8 0 156.1 2-2.7 0-152.5 2 167 0-177.3 2-14.7 0 164.1 2-152.8 0 159 2-17.8 0-160.7 2 18.9 0 149.9 2-151.6 0 151.7"/>
<path stroke="#ff0000" d="M215.7 1406.1l157.7 66.7 92.2-162.7 65.4 110 50.8 47.1 41.5-31.6 35 51.9 30.4 13.9 26.8-10.1 24 32.4 21.7 35.2 19.8-11.1 18.2-25 16.8-7.4 15.7-74.2 14.7 10.4 13.8 73.2 13-63.9 12.3-30.5 11.7-54.4 11.1-54.4 10.5-52.3 10.2 161.1 9.6 111.1 9.3-54.5 8.9 8.8 8.6 0 8.3-30.5 8 74 7.7 54.5 7.5-26.2 7.2 4.4 7 6.5 6.8-23.9 6.6 23.9 6.4-8.7 6.2 0 6.1-15.2 5.9 0 5.7 4.3 5.7-4.3 5.4-104.6 5.4-102.3 5.2 17.4 5 204.2 6 7.6 4-29.6 4 36.9 6-47.7 4-29.8 4 53.6 6 29.4 4-16.3 4-8.8 4 17.5 4 29.6 4-20.3 4-9.6 4 9 4-21.8 4-9 4 45.4 2-56 4-72.6 4-56.2 4 170.3 2-33.1 4 18.7 4-23.1 2 17.2 4 25.4 4-13.2 2-15 4-13.6 2 35.4 4-38.3 2 30.8 4 6.9 2-7.1 2-129 4 132.8 2-43.8 4-49.3 2 69 2-14.4 4 41.7 2-21.9 2 3.8 4 2.9 2-5.9 2-59.7 2 41.2 4 29.2 2-16.1 2 9.3 2-42 2 40.2 4-21.4 2-60 2 94.7 2 14 2-77 2 51.4 2-48.7 2 34.3 4-36.6 2-61.9 2-7.6 2 125.1 2 4.3 2-42.3 2 12.1 2-21.1 2 21.7 2 32.1 2-68.2 2 12.2 2 49.8 2-42.8 2-69.4 2 66 0 4.9 2-27.6 2 56.7 2-50.8 2 55.2 2-80.9 2-3.4 2 73.3 2-68.7 2-19 0 101.3 2-8.5 2-26.7 2-4.5 2-23 2-76.2 2 18.4 0 91.4 2-11.6 2-57 2-8.9 2 108 0-26 2-62.3 2 3.5 2-3.1 0 41.8 2 15 2-8.5 2-124.9 2 70.2 0 45 2 12.4 2-111.1 0 82.1 2-72.1 2 98.6 2-107.8 0 72.1 2-65.8 2 99.8 0-97.5 2 78.5 2-5.1 2-32.9 0-25.8 2 1.3 2 40.2 0 10.1 2 37.5 2-140.6 0 57.2 2-18.9 2 63.3 0 18.1 2-29 0-58.8 2 2.9 2-16.1 0-1.9 2 107.1 2-91.7 0 33.1 2 48.6 0-67.7 2-58.6 2 68.6 0-52.3 2-6.2 0-7.6 2 41.1 2-1.8 0 47.7 2-70 0-8.5 2 18.4 2-1.4 0-21.5 2 93.6 0-23.9 2-11.3 0-48.3 2 63.6 2-10.3 0 25.3 2-90.9 0 87.6 2-55.4 0-18.4 2 2 0 41 2 42.8 0-32.9 2-105.4 0 99.9 2 32.8 2 1.4 0-18.7 2-69.5 0-17.2 2 48.4 0 14.6 2 4.1 0-23.8 2 25.1 0 4.8 2-80.2 0-35.8 2 118.8 0-84.4 2 15.7 0 33.4 2-69.3 0 11.5 2 45.9 0-73.3 2 17.5 0 78.7 2 13.7 0-60.8 2 13.7 0 22.7 2-13.7 0 49.9 2-118.9 0 92.5 2-83.4 0 73.7 2-60 0 34.8 2-30.9 0 4.9 2 46.8 0-4.2 2-101.3 0 79.7 2 45.8 0-54.4 2-56.3 0 86.2 2-52.5 0-22.4 2 12.5 0 36.6 2-75.3 0 67.8 2-79.6 0 77.2 2 12.1 0-53.6 2 21.7 0 79.5 2-82.5 0 67.9 2-54.8 0 19 2-64 0 78.9 2 38.5 0-18.2 2-76.4 0 91.4 2-2.8 0-103.5 2 13.5 0 45.9 2 20.8 0-131.6 2 96.5 0-100.2 2 33.9 0 126.8 2-69.1 0 72.7 2-66.2 0-22.8 2-48.9 0 66.5 2-3.3 0-8.2 2-55 0 35 2 17.5 0-70.9 2 104.3 0-115.3 2 160.3 0-55.6 2 17.6 0-121.9 2 147.5 0-157.5 2 79.3 0-46.1 2 128 0-98.9 2 67.5 0-79.9 2 115.2 0-160.4 2 55.8 0-23.1 2 35.6 0 45.1 2-51.5 0 58.7 2-121.2 0 75.4 2-91.1 0 131.3 2-34.2 0-67.5 2 141.8 0-172.9 2 72.6 0 105.2 2-37 0-47.2 2 82 0-167.1 2 152.2 0-134.2 2 65.7 0-73.1 2 9.9 0 94.8 2 34.8 0-153.4 2 20.6 0 108.5 2-140.3 0 147.8 2-79.9 0 45.2 2 63.2 0-126.2 2 119.8 0-89.9 2 74.9 0-159 2 73 0 108.1 2-1.4 0-88.6 2-81.9 0 126.9 2-65.1 0 68.4 2-105.9 0 49.1 2-84.1 0 112 2-58.5 0 109.6 2-96.5 0 8.6 2 53.8 0-62.2 2 39.9 0-56.3 2 91.7 0-163.3 2 45.5 0 107.9 2 18.6 0-98.1 2 88.5 0-157.1 2 9.5 0 112.6 2-34.1 0-85.5 2-14.4 0 156.9 2-126.7 0 75 2 66.8 0-165.1 2 102.2 0-82 2-22.6 0 159 2-162.6 0 152.3 2-118 0 138.3 2-149.4 0 74.7 2-77.8 0 115.5 2-57.8 0 73.6 2-153.3 0 104.9 2 25.1 0-108.3 2-35.2 0 155 2-138.3 0 129.3 2 33.4 0-120.1 2-34 0 125.8 2-48.4 0-56.2 2 103.6 0-86.4 2 89.9 0-112.2 2-24.3 0 84.9 2 27.6 0-108.6 2-28.7 0 122.3 2-46.8 0 87.2 2-128.9 0 111.2 2 37.5 0-133.6 2 84.2 0-91.9 2 130.1 0-120 2 67.7 0-99.1 2 129.5 0-121.9 2-8.4 0 132.2 2 22.2 0-182.8 2 166.7 0-143.2 2 14.2 0 121.6 2 7.1 0-147.2 2 137.2 0-103.8 2 108.8 0-113.1 2-40.7 0 162.3 2-175.5 0 169.6 2-143.2 0 140.1 2-72.3 0-96.4 2 65.3 0 68.8 2-122.4 0 135 2-107.1 0 89.3 2-50.6 0 72.9 2-9.3 0-104.9 2-10.7 0 145.5 2-9.9 0-134.2 2 0.4 0 86 2-66.1 0 82.3 2-135.2 0 134.2 2-127.8 0 133.2 2-115.3 0 132.7 2 19.9 0-167.7 2 155.8 0-139 2 151.3 0-114.3 2-46.9 0 149.7 2-117.9 0 121.5 2-129.4 0 119 2-133.1 0 84.1 2-103.7 0 142.9 2-159.5 0 179.9 2-41.1 0-104.7 2-1.3 0 144.4 2-12.5 0-103.3 2-40.8 0 152 2 14.3 0-158.6 2 139.5 0-114.3 2 51 0-79.5 2 140.6 0-134.6 2-27.9 0 184.1 2-13.3 0-157.8 2 11.5 0 143.5 2-139.3 0 116.4 2-138.7 0 155.7 2-5.3 0-118.3 2 130.1 0-131.8 2-13.9 0 112.8 2 54.1 0-158.1 2 109.2 0-126.9 2 158.1 0-120.3 2 80.1 0-104.7 2-15.3 0 157.2 2-136.3 0 135.8 2-151.3 0 152 2 4.5 0-141 2 20.1 0 114.6 2-110.9 0 114.3 2 1.4 0-178.2 2 0.3 0 170.7 2-138.8 0 151.8 2-164.5 0 167.6 2-159.9 0 126.7 2 12.7 0-142.5 2-27 0 182 2 8.3 0-209.7 2 5.8 0 176.9 2 24.8 0-196.9 2 37 0 169.3 2-14.1 0-161.6 2-6.7 0 150.8 2-23.5 0-135.4 2 27.3 0 146.5 2-4.4 0-124.7 2 65.6 0-110.9 2 150.9 0-159.7 2 174.7 0-152.6 2 117.8 0-154.1 2 17.4 0 188 2-6 0-213.2 2 224.1 0-215.8 2 14 0 155.7 2 32.1 0-176 2 185.8 0-169.9 2 152.6 0-199.5 2 28.2 0 154.9 2-152.9 0 85.5 2 92.4 0-127.7 2-36 0 140.8 2-139.6 0 183.1 2-198.9 0 158.1 2-161 0 187.9 2-7.6 0-143.9 2-58.3 0 207.8 2-25.9 0-125 2 146.1 0-180.2 2 171.6 0-172.5 2 0.1 0 148 2-156.4 0 197.3 2-36.3 0-178.6 2 196.7 0-201.7 2 202.5 0-176 2 195.3 0-224.4 2-0.5 0 216.4 2 4.8 0-184 2-33.8 0 210.6 2-177.7 0 176.5 2-208.9 0 203.8 2-160.2 0 152.3 2-175.8 0 174.6 2 7 0-175 2 179.1 0-175.9 2 173.3 0-187.1 2 28.6 0 164.7 2-174.3 0 174.4 2-0.4 0-187.2 2 187.4 0-167.2 2 157.6 0-171 2 184.4 0-165.9 2-38.8 0 204.2 2 4.8 0-211.4 2 209.2 0-189.3 2 8.6 0 157.3 2 15 0-154.9 2-18.5 0 172.3 2-162.8 0 172.9 2-184.5 0 185 2-186 0 172.2 2 20.9 0-194.4 2 179.7 0-175.1 2 194.6 0-205.7 2 3.7 0 196.7 2-12.6 0-182.7 2-20.5 0 187.1 2-4.5 0-155.3 2 178.7 0-182.6 2 181 0-209.6 2 226.1 0-204.1 2 158 0-141.1 2-41.3 0 204.1 2 12.4 0-204.1 2 187.3 0-174.6 2-5.4 0 213 2-184.2 0 169 2-24.6 0-165.7 2 173.8 0-171.8 2 147.7 0-151.9 2 0.3 0 195.9 2-18 0-175.8 2 159 0-159.1 2 183.5 0-158.4 2-49 0 209.8 2 15.5 0-203 2 186 0-183.2 2 6.5 0 173.6 2-178.4 0 187.8 2-13.4 0-167.2 2-30.3 0 222.7 2-192.9 0 191.4 2-50 0-150.6 2 10.8 0 177 2-184.5 0 194.3 2-217.2 0 217 2-200.2 0 214.2 2-219.2 0 201.1 2-190 0 186 2-181.6 0 180.2 2-199.5 0 205.7 2-187.7 0 186 2-1.8 0-195.1 2 189.2 0-210.9 2 33.5 0 183.4 2-170.6 0 172.2 2-0.8 0-186.7 2-4.4 0 191 2-160.6 0 162.7 2-192.8 0 159.5 2-157.6 0 172.6 2-171.4 0 191.7 2-203 0 201.4 2 10.1 0-196.9 2 201.9 0-199.2 2 186.4 0-206.3 2 212.1 0-181.7 2 195.4 0-199 2 171.8 0-170.8 2 180.5 0-186.9 2 191.1 0-198.5 2 2 0 184.2 2 6.1 0-184.4 2-25.9 0 198.9 2-172 0 183.2 2-181.5 0 174.1 2 3.7 0-183.4 2 2.3 0 183 2-166.5 0 159.5 2-175.5 0 179.6 2 6.3 0-195.2 2 193.5 0-169.3 2-33.5 0 191.1 2-192.9 0 208.2 2-13.9 0-180.5 2 11.7 0 176.8 2 14.6 0-198.2 2 14.6 0 185.7 2-14.4 0-181 2 196.6 0-213.1 2 201.3 0-191.8 2 12.8 0 191.2 2-11.2 0-172.8 2-5.1 0 174.7 2 17.4 0-192.8 2 177.4 0-175.3 2 181 0-171.9 2 2.6 0 182.2 2-13.8 0-176.9 2-0.2 0 178.8 2 2.5 0-180.1 2 191.4 0-194.1 2 17.9 0 150.1 2 2 0-153.7 2 173.7 0-197.3 2 19.1 0 172.1 2-13.8 0-178.2 2 13.3 0 168.7 2 0.1 0-166.5 2 171.5 0-171.4 2-2.7 0 170 2 6.2 0-174 2 183.7 0-196.7 2 183.4 0-172.5 2 172.5 0-164.7 2 153.7 0-177.1 2 4.3 0 178.3 2-164.3 0 165.9 2 5.6 0-174.7 2 5.9 0 168.8 2-166.3 0 174.3 2-192 0 184.6 2-167.7 0 178.4 2-171.5 0 165.7 2-6.7 0-169.7 2 11.6 0 170.6 2 1.1 0-183.5 2 169.9 0-164.1 2 2.1 0 169.2 2 6 0-176.5 2 163.3 0-158.6 2 156.3 0-158 2 159.8 0-165.4 2-1.8 0 170.1 2-5.1 0-177.9 2 186.3 0-166.1 2-12.7 0 177.6 2-1.6 0-160.7 2 162.4 0-153.7 2 0.6 0 156.6 2-156.6 0 158.3 2-151.8 0 154.4 2-168.7 0 164.3 2 0.2 0-166.3 2 11.8 0 151.8 2 24.5 0-194.3 2 173.6 0-157.6 2 157.5 0-164.7 2 157.9 0-169.7 2 174.8 0-171.9 2 17.5 0 156.5 2-151.9 0 151.1 2 7.9 0-158.4 2 0 0 152.2"/>
</g>
<path d="M207.5 1638H215.5M207.5 1615.8H215.5M207.5 1593.5H215.5M202.5 1571.3H215.5M207.5 1549H215.5M207.5 1526.8H215.5M207.5 1504.5H215.5M202.5 1482.3H215.5M207.5 1460H215.5M207.5 1437.8H215.5M207.5 1415.5H215.5M202.5 1393.3H215.5M207.5 1371H215.5M207.5 1348.8H215.5M207.5 1326.5H215.5M202.5 1304.3H215.5M207.5 1282H215.5M207.5 1259.8H215.5M207.5 1237.5H215.5M202.5 1215.3H215.5M207.5 1193H215.5M207.5 1170.8H215.5M207.5 1148.5H215.5M202.5 1126.3H215.5M207.5 1104H215.5M207.5 1081.8H215.5M207.5 1059.5H215.5M202.5 1037.3H215.5M207.5 1015H215.5M207.5 992.8H215.5M309.9 1652V1665M465.6 1652V1665M831.7 1652V1665M989.4 1652V1665M1355.5 1652V1665M1513.2 1652V1665M1879.3 1652V1665M2037 1652V1665M259.2 1652V1659M358.7 1652V1659M400.2 1652V1659M435.2 1652V1659M623.3 1652V1659M715.5 1652V1659M781 1652V1659M882.5 1652V1659M924 1652V1659M959 1652V1659M1147.1 1652V1659M1239.3 1652V1659M1304.8 1652V1659M1406.3 1652V1659M1447.8 1652V1659M1482.8 1652V1659M1670.9 1652V1659M1763.1 1652V1659M1828.6 1652V1659M1930.1 1652V1659M1971.6 1652V1659M2006.6 1652V1659M2194.7 1652V1659" stroke="#1a1a1a" stroke-width="2.4" fill="none"/>
<path d="M215.5 979.7V1652H2215" stroke="#111" stroke-width="2.4" fill="none"/>
<g font-size="41.5" letter-spacing="1.6" stroke="#000" stroke-width="0.6"><text x="197.6" y="1581.6" text-anchor="end">50</text><text x="197.6" y="1492.6" text-anchor="end">60</text><text x="197.6" y="1403.6" text-anchor="end">70</text><text x="197.6" y="1314.6" text-anchor="end">80</text><text x="197.6" y="1225.6" text-anchor="end">90</text><text x="197.6" y="1136.6" text-anchor="end">100</text><text x="197.6" y="1047.6" text-anchor="end">110</text><text x="310.7" y="1701.7" text-anchor="middle">5</text><text x="466.4" y="1701.7" text-anchor="middle">10</text><text x="832.5" y="1701.7" text-anchor="middle">50</text><text x="990.2" y="1701.7" text-anchor="middle">100</text><text x="1356.3" y="1701.7" text-anchor="middle">500</text><text x="1514" y="1701.7" text-anchor="middle">1000</text><text x="1880.1" y="1701.7" text-anchor="middle">5000</text><text x="2038.6" y="1701.7" text-anchor="middle" letter-spacing="2.3">10,000</text></g>
<text x="1214.5" y="1789" font-size="58" text-anchor="middle">Frequency (/s)</text>
<text transform="translate(87.8 1319.2) rotate(-90)" font-size="58.4" text-anchor="middle">Sound Pressure Level (dB)</text>
<text x="1131.5" y="1872.5" font-size="44" text-anchor="middle">(<tspan font-weight="bold">b</tspan>)</text>
<path d="M238.8 1922.8V2601.5M341.4 1922.8V2601.5M383.4 1922.8V2601.5M418.8 1922.8V2601.5M608.9 1922.8V2601.5M702.1 1922.8V2601.5M768.2 1922.8V2601.5M870.8 1922.8V2601.5M912.8 1922.8V2601.5M948.2 1922.8V2601.5M1138.3 1922.8V2601.5M1231.5 1922.8V2601.5M1297.6 1922.8V2601.5M1400.2 1922.8V2601.5M1442.2 1922.8V2601.5M1477.6 1922.8V2601.5M1667.7 1922.8V2601.5M1760.9 1922.8V2601.5M1827 1922.8V2601.5M1929.6 1922.8V2601.5M1971.6 1922.8V2601.5M2007 1922.8V2601.5M2197.1 1922.8V2601.5M195.3 2559.9H2217.8M195.3 2535.5H2217.8M195.3 2511.1H2217.8M195.3 2462.4H2217.8M195.3 2438H2217.8M195.3 2413.6H2217.8M195.3 2364.8H2217.8M195.3 2340.4H2217.8M195.3 2316H2217.8M195.3 2267.2H2217.8M195.3 2242.8H2217.8M195.3 2218.4H2217.8M195.3 2169.6H2217.8M195.3 2145.3H2217.8M195.3 2120.9H2217.8M195.3 2072.1H2217.8M195.3 2047.7H2217.8M195.3 2023.3H2217.8M195.3 1974.5H2217.8M195.3 1950.1H2217.8M195.3 1925.7H2217.8" stroke="#f2f2f2" stroke-width="2" fill="none"/>
<path d="M290.1 1922.8V2601.5M449.5 1922.8V2601.5M819.5 1922.8V2601.5M978.9 1922.8V2601.5M1348.9 1922.8V2601.5M1508.3 1922.8V2601.5M1878.3 1922.8V2601.5M2037.7 1922.8V2601.5M195.3 2584.3H2217.8M195.3 2486.8H2217.8M195.3 2389.2H2217.8M195.3 2291.6H2217.8M195.3 2194H2217.8M195.3 2096.5H2217.8M195.3 1998.9H2217.8" stroke="#e2e2e2" stroke-width="2" fill="none"/>
<clipPath id="clipc"><rect x="195.3" y="1920.8" width="2022.5" height="680.7"/></clipPath>
<g clip-path="url(#clipc)" fill="none" stroke-width="2.0" stroke-linejoin="round">
<path stroke="#00ff00" d="M196.9 2434.2l159.4 35.1 93.2 45.7 66.1-11.7 51.3-0.3 42 9.7 35.4-20.2 30.7 22.8 27.1-4.4 24.2-1.7 21.9 10.5 20-158.1 18.4 31.6 17.1 75.6 15.8 7 14.9 35.1 13.9-14 25.5-41.6 22.5-157.7 10.3-26.3 10.4 125.8 9.4 20.7 9.3-43.2 9.4 93.8 9.4 1.9 7.5 43.2 9.4-20.7 7.5 9.4 5.6-5.6 7.6 0 7.5-18.8 7.5 9.4 7.5 5.6 5.6 18.8 5.6-142.6 5.7 118.2 5.6-18.8 5.6 16.9 5.7 22.6 12.2-30.1 4.7 41.3 11.2-5.6 3.8 0 10.3-180.2 6.9 63.8 6.6 103.3 4.7-16.9 6.5 35.6 4.7-24.4 9.4 3.8 5.7-16.9 3.7 11.2 5.6-63.8 3.8 52.6 3.8-43.2 3.7 31.9 3.8-3.7 5.6 11.2 5.9-1.8 7.2 16.8 7.5-118.2 4.7 107 4.7 11.2 7.5-50.6 7.5 39.4 9.4-84.5 5.7 63.8 7.5 54.5 5.6 3.7 5.6-46.9 8.5-131.4 2.8 122 8.4 48.8 7.6-56.3 5.6 45.1 4.7-56.4 8.4 67.6 6.6-39.4 5.6-93.9 4.7 114.5 4.7 11.3 5.6-50.7 8.5-103.2 8.4 163.3 5.7-107 7.5 65.7 1.2-39.9 0 34.1 2.6-96.8 0-1.1 2.4 102.5 2.6-64.5 0 53.5 2.4 2.2 0-18 2.6 4.4 2.4 1.4 0 26.1 2.6-12.8 0-55.2 2.4 25.3 0-72 2.6 73.3 2.4 3.8 0-23 2.6 43 0-22.9 2.4-22.2 0 28.6 2.6 10 0-11.4 2.4-2.7 0-13.9 2.6-25.2 0 13.9 2.4 26.3 0-44.6 2.6 21.6 0-22.9 2.4 88.3 0-69.4 2.6-19.2 0 26.9 2.4 5.7 0-20.8 2.6-79.6 0 91.9 2.4-103.5 0 101.2 2.6-21.7 0 0.2 2.4-100.5 0 126.7 2.6-47.3 0 27.9 2.4-20 0-51.5 2.6 10.6 0 26.5 2.4 7.8 0 41.8 2.6-13.9 0-17.8 2.4 17.4 0-30.4 2.6 69.8 0-46.2 2.4-106.2 0 125.5 2.6-40.6 0-80.4 2.4 3.4 0 111.7 2.6 29.8 0-23.5 2.4-26.3 0 31.3 2.6-24.3 0 36.8 2.4-10.2 0-10.8 2.6-25.6 0 30.3 2.4-27.5 0 36.9 2.6 11.4 0-29.5 2.4-89.6 0-60.7 2.6 127.7 0 97.4 2.4-117.1 0 16.1 2.6 34.1 0-133.7 2.4 90 0 16.7 2.6 17 0-125.2 2.4 73.3 0-99 2.6 136.7 0-28.1 2.4 19.2 0-114.4 2.6 142.4 0-116.7 2.4 106 0-136.1 2.6 216.3 0-155.8 2.4 162 0-144.1 2.6 59.8 0-139.5 2.4 123.2 0-43.8 2.6 44.1 0-60.7 2.4-58.2 0 138.6 2.6-24.3 0-65.2 2.4 37.3 0-41.7 2.6 19.5 0 111.8 2.4-46.2 0-128.7 2.6 22.4 0 88 2.4 78.5 0-220.1 2.6 30.2 0 179.9 2.4-188.4 0 142 2.6-13.4 0-18.5 2.4 105.7 0-133 2.6-102.5 0 166.6 2.4 5.6 0-69.1 2.6-104.8 0 154 2.4-142.8 0 144.6 2.6-35.7 0-58.1 2.4 95.2 0-159.3 2.6 46.7 0 116.8 2.4-179.6 0 160 2.6-156.6 0 162.4 2.4-60.2 0 133.4 2.6-67.3 0-92.7 2.4 81.3 0-62.5 2.6-116 0 175.3 2.4-8.1 0-164.9 2.6 5.6 0 225.6 2.4-25.8 0-209.8 2.6 148.1 0-128.8 2.4 10.4 0 196.7 2.6-94.7 0-117.4 2.4 4.8 0 160.4 2.6-178.6 0 190.2 2.4-138.3 0 122.2 2.6-20.1 0-111.5 2.4 133.3 0-166.9 2.6 114.1 0 101.7 2.4-44.1 0-90 2.6 112.3 0-148.1 2.4-30.4 0 176.1 2.6-114.8 0 145.8 2.4-51.9 0-66.6 2.6 55.7 0-54.9 2.4-73.6 0 116 2.6-184.3 0 170.8 2.4-168.1 0 210.4 2.6-145.2 0 135.6 2.4-32.6 0-84.7 2.6-99 0 200.5 2.4 17.1 0-193.8 2.6 2.2 0 162.7 2.4-85.9 0 148 2.6-233.4 0 201.9 2.4 2.5 0-193.1 2.6 36.6 0 139.4 2.4-179 0 182.4 2.6-4.2 0-187.1 2.4-8.1 0 204.9 2.6 18 0-226.3 2.4 182.6 0-96.6 2.6 87.6 0-163.5 2.4-20.9 0 148.9 2.6-38.4 0 94.7 2.4-9.7 0-61.8 2.6 109.2 0-250.1 2.4 241 0-163.2 2.6 133.5 0-42.5 2.4 65.5 0-67.9 2.6-106.7 0 148.7 2.4 32.7 0-203.9 2.6 207.8 0-147 2.4 111.8 0-215.1 2.6 94 0 90.8 2.4 10 0-103.2 2.6 101.4 0-211 2.4 83.6 0 177.7 2.6-63.4 0-186 2.4-3.4 0 232.3 2.6-237.9 0 219.1 2.4-74.3 0 80.5 2.6-31.7 0-189.7 2.4 241.7 0-126.4 2.6-40.9 0 147.1 2.4-5.3 0-228.5 2.6 58.1 0 167.3 2.4-0.8 0-219.2 2.6-7.2 0 235.7 2.4-172.9 0 128.3 2.6-109.4 0 163.8 2.4-230.9 0 203.4 2.6 38.5 0-228.4 2.4 205.8 0-224.6 2.6-2.7 0 223 2.4-169.4 0 151 2.6-208.4 0 228.3 2.4-186.1 0 191.3 2.6-34.8 0-118.9 2.4 128.7 0-199.1 2.6 89.8 0 133.2 2.4-234.5 0 223.6 2.6 2.9 0-150.8 2.4 2.8 0 142.2 2.6-211.4 0 238.3 2.4-204.3 0 176.1 2.6-215.6 0 190.9 2.4 18.8 0-174.4 2.6 178.3 0-85 2.4 80.7 0-136.6 2.6 118.1 0-178.9 2.4 189.9 0-138.4 2.6 4 0 138.7 2.4 6.5 0-104 2.6-60.8 0 165.3 2.4-219 0 209.5 2.6-33.5 0-124.3 2.4-45.8 0 213.1 2.6-18.9 0-194.6 2.4 8.7 0 228.1 2.6-199.4 0 162.6 2.4-201.5 0 213.9 2.6-206.1 0 233.8 2.4-233.5 0 205.7 2.6-204.8 0 209.9 2.4-214.6 0 226.3 2.6-156.2 0 140.5 2.4-194.5 0 214.3 2.6-135.8 0 92.6 2.4 17.8 0-123 2.6-16.1 0 129.4 2.4-115.5 0 127 2.6 1.8 0-171.2 2.4-34.8 0 212.7 2.6 20.9 0-198 2.4 171.7 0-187 2.6 182 0-164.7 2.4 160 0-168.6 2.6 178.2 0-182.8 2.4-4.1 0 186.5 2.6 3.6 0-163.9 2.4 194 0-201.6 2.6 167.1 0-129.5 2.4-23.1 0 160 2.6-175.2 0 154.7 2.4 15.4 0-148.4 2.6 117.7 0-156.5 2.4 20.5 0 166.4 2.6-8.9 0-160 2.4 20.4 0 161.5 2.6-12.8 0-204.8 2.4 180 0-149.9 2.6 163.5 0-161.6 2.4 18.9 0 153.4 2.6-175.3 0 173.7 2.4-151.7 0 142.3 2.6-0.3 0-157.7 2.4 17.4 0 143.7 2.6-165 0 176.5 2.4-172.3 0 174.1 2.6-16.1 0-156.3 2.4 202.1 0-204.2 2.6 14.3 0 174.1 2.4-188.3 0 177.9 2.6-3.5 0-168.6 2.4 176.2 0-172 2.6 181.4 0-190.6 2.4 180.4 0-202.4 2.6 186.6 0-172.2 2.4-7.6 0 144 2.6 48.1 0-171.7 2.4 174.6 0-170.8 2.6-8.8 0 168.2 2.4 12.5 0-177.8 2.6 179.9 0-156.6 2.4 172.9 0-193.5 2.6 186.7 0-183.9 2.4 166.4 0-171.1 2.6 183.2 0-188.6 2.4 11.3 0 156.1 2.6 44.4 0-206.7 2.4 170.6 0-170 2.6 174.9 0-181.3 2.4 25.8 0 163.1 2.6-197.8 0 215.6 2.4-198.6 0 174.1 2.6-187.7 0 212.8 2.4-190.4 0 197.7 2.6-12.1 0-204.7 2.4 188.6 0-170.2 2.6-11.4 0 184.8 2.4 3.6 0-198.7 2.6 16.6 0 182.3 2.4-182.1 0 182.9 2.6 7.4 0-189.2 2.4 12.9 0 194.9 2.6-209.2 0 189.1 2.4 28 0-194.7 2.6 161.1 0-180.7 2.4 6.3 0 179.9 2.6-199.8 0 218.2 2.4-6.8 0-194.3 2.6-13.8 0 187.7 2.4-184.2 0 178.4 2.6-176.9 0 174.9 2.4 11 0-195.1 2.6 20.7 0 172.8 2.4-181.5 0 179 2.6 13.4 0-186.8 2.4 181.9 0-184 2.6 171.9 0-166.4 2.4 175.3 0-199.8 2.6 227.9 0-205 2.4 6.3 0 175.7 2.6-179.7 0 190.9 2.4-9 0-197 2.6 199.7 0-183.9 2.4 12.7 0 200.9 2.6-203.9 0 176.6 2.4 0.2 0-189 2.6 189.6 0-200.4 2.4 203.3 0-199.3 2.6 12.4 0 186.4 2.4-8 0-201.9 2.6 28.7 0 187.6 2.4-193.1 0 184 2.6-210.5 0 216.5 2.4-26.8 0-165.1 2.6 184.3 0-189.5 2.4 178.4 0-186 2.6 8.3 0 185.6 2.4-174.3 0 179 2.6 2.8 0-192.2 2.4 185.5 0-173.4 2.6 172.4 0-179.1 2.4 1.9 0 183.7 2.6-194.3 0 229.8 2.4-34.7 0-200.2 2.6 233.9 0-219.8 2.4 200.5 0-214.7 2.6 11.6 0 186.5 2.4 6.5 0-191.6 2.6 208 0-204 2.4 185.2 0-192.2 2.6 214.1 0-213.9 2.4 195.1 0-195.3 2.6 226.5 0-221.7 2.4 178.1 0-168 2.6-4.1 0 189.9 2.4 8.9 0-197.2 2.6 210.3 0-206.8 2.4-4.6 0 193.1 2.6-192.9 0 178.4 2.4 18.8 0-184.2 2.6-11.9 0 187.8 2.4-189.2 0 188.6 2.6-189.2 0 188.7 2.4-212.1 0 242.8 2.6-231 0 196.7 2.4-6.7 0-192.4 2.6 28.3 0 202.3 2.4-26.1 0-194.9 2.6 0.3 0 191.2 2.4 37.6 0-227.7 2.6-8.1 0 197.5 2.4 16.4 0-205 2.6 191.4 0-195.1 2.4 0.6 0 196.3 2.6-214.3 0 214.3 2.4-191.1 0 186.7 2.6-185.8 0 192.8 2.4-2.8 0-202.6 2.6 20.6 0 189.1 2.4-191.1 0 193.1 2.6-192.3 0 199.2 2.4-6.5 0-194.6 2.6-20.8 0 219.1 2.4-191.1 0 198.9 2.6-218.6 0 208.1 2.4 4.5 0-208.9 2.6 214.5 0-210.2 2.4-19.6 0 214.1 2.6-199.2 0 225.5 2.4-207.8 0 169.8 2.6-184 0 189.6 2.4 29.1 0-219.1 2.6 199.6 0-198.2 2.4 199 0-189.7 2.6-6.6 0 180.2 2.4-176.8 0 198.9 2.6 42.5 0-254.3 2.4 11.6 0 195.4 2.6 34.9 0-229.3 2.4 4.1 0 183.2"/>
<path stroke="#ff0000" d="M196.9 2502.1l159.4 36.3 93.2-155.7 66.1 111.2 51.3 33.1 42 26.1 35.4 43 30.7-9.6 27.1-26.4 24.2 38.7 21.9-14.1 20 3.5 18.4-30.7 17.1-0.9 15.8-73.8 14.9-33.4 13.9 98.4 13.2-87.8 12.4-83.5 11.8-67.6 11.2-82.6 10.7-24.4 10.2 148.3 9.8 116.4 9.4 73.2 9-71.4 8.7-18.7 8.3 11.2 8.1 30.1 7.8 95.7 7.5 0 7.3 7.5 7.1 0 5.3-127.6 6.6 134.4 6.6-33 6.5-30.1 6.6 62 6.6-24.5 6.6-82.6 10.3 90.2 4.7-125.8 10.3 107 5.6-39.4 9.4 13.1 4.7-95.7 8.8 75.1 5.6-13.2 12.2 46.9 4.7-24.4 7.5 3.8 4.7-33.8 9.4 63.8 8.5-88.2 7.5 45.1 9.3-1.9 3.8 20.6 7.5-80.7 3.8 62 5.6 7.5 5.6-133.3 6.6 82.6 5.6-1.9 6.6 50.7 7.5-88.3 3.8 71.4 5.6-67.6 7.5 20.7 7.5-73.3 5.6 77 8.5-82.6 5.6 67.6 4.7 15 4.7-31.9 4.7-71.3 5.6 84.4 11.3-46.9 7.5 28.2 7.5-18.8 7.5-41.3 7.5 31.9 7.5 9.4 10.4-124.5 1.2 75.4 2.6 42.9 0-97.7 2.4-20.8 2.6 76.5 0-22.7 2.4 1 0 56.4 2.6 21.1 2.4-63.6 0-2.8 2.6-53.5 0 31.1 2.4 14.9 0-28.7 2.6 54.3 2.4-79.4 0 60.1 2.6 6.3 0 6.6 2.4-38.2 0-18.6 2.6-19.4 0 52.5 2.4-73.5 0 79.7 2.6-27.5 0 42.3 2.4-28.8 2.6 2.9 0 21.4 2.4-19.8 0-56.1 2.6 25.5 0-32.5 2.4 34.4 0-6.1 2.6 5 0-35.5 2.4 1.5 0-50.6 2.6 38.9 0 28.7 2.4 4.7 0-10.3 2.6-66.2 0 73.8 2.4-54.8 0 42 2.6-27.2 0 93.7 2.4-44.5 0-64.1 2.6 11.4 0 36.5 2.4-23.5 0 50.6 2.6-43.5 0-33.6 2.4 52.7 0-40.1 2.6 12.5 0-4.7 2.4 14.7 0-61.2 2.6 55 0 42.2 2.4-91.7 0 63.1 2.6 17.4 0-44 2.4-18.8 0 33.4 2.6 16.6 0-64.5 2.4 50 0 23.4 2.6-17.9 0-25.9 2.4-19.8 0-5.4 2.6 18.8 0 40.2 2.4-37.5 0 62.6 2.6-38.3 0-27.7 2.4 26.4 0-71.1 2.6 52.2 0 25 2.4 18.2 0-35.2 2.6 24.7 0-42 2.4-21.3 0 100.4 2.6-109 0-17.3 2.4 79 0-53.2 2.6 90 0-72.9 2.4-7.6 0 18.8 2.6-69.5 0 38.6 2.4 47.4 0-73.3 2.6 33.7 0 28.7 2.4-49.2 0 48.1 2.6 59.4 0-145.6 2.4 132.5 0-98.4 2.6 69.3 0-36.2 2.4-5.9 0-39 2.6-18 0 57.2 2.4 28.4 0-69.1 2.6 6.2 0-41.8 2.4 66.5 0 37.5 2.6-75.9 0 65.7 2.4-20.6 0-27.8 2.6 2.7 0 29.1 2.4-59.4 0 66.6 2.6-39.8 0 10.2 2.4 38 0-56.8 2.6 20.2 0 32 2.4-1.4 0-40.6 2.6 19.8 0-72.2 2.4 91.5 0-33.3 2.6-14.7 0 55.8 2.4-123.2 0 127.1 2.6-90.8 0 94.9 2.4-76.5 0 61.9 2.6-2.8 0-40.9 2.4-9.8 0 20.5 2.6-2.9 0-87.3 2.4 128.6 0-116.6 2.6 53.1 0 68 2.4-59.8 0 51.3 2.6-67.2 0 65.9 2.4-16 0-136.5 2.6 120.6 0-115.3 2.4 46.8 0 78.8 2.6-73.7 0 78.1 2.4-141.6 0 141.6 2.6-38.9 0 24.7 2.4-128.4 0 138.2 2.6-54.8 0 63 2.4-80.4 0 70.8 2.6-64.5 0 90.6 2.4-31.8 0-67.4 2.6 108.2 0-168.9 2.4-8.2 0 124.6 2.6 6.8 0-68.6 2.4-71.6 0 143.7 2.6-109.2 0 90.3 2.4-29.2 0 70 2.6-95.3 0 57.9 2.4-44.5 0 89.6 2.6-43.5 0-150.5 2.4 87.1 0 55.1 2.6-64.4 0 101.8 2.4-113.1 0 45.2 2.6 31.6 0-136.8 2.4 63.9 0 56.7 2.6-74.5 0 97.8 2.4-37.1 0-42 2.6-71.4 0 111.9 2.4-56.3 0 111.6 2.6-157.5 0 112.4 2.4-2.1 0-79.7 2.6-49.1 0 129.8 2.4-90 0 88.1 2.6 1.5 0-83.7 2.4 28.8 0 36.5 2.6-113.1 0 101.4 2.4 0.6 0-63.3 2.6-66.1 0 154.9 2.4-126.1 0 114.2 2.6-38 0 41.2 2.4-113.2 0 57 2.6 75.8 0-191.2 2.4 158.3 0-78.3 2.6 70.8 0-64.8 2.4 74.5 0-87.9 2.6 86.9 0-132.4 2.4 114.4 0-85.5 2.6 98.9 0-85.6 2.4 61 0-60.1 2.6 5.2 0 90.7 2.4-82.9 0 65 2.6-12.6 0-85.4 2.4 110.8 0-97.8 2.6 1.4 0 63.6 2.4-5.8 0-80.9 2.6 65.4 0-69.6 2.4 78.9 0-76.6 2.6 87.2 0-88.5 2.4-58 0 152.8 2.6-136.5 0 138.9 2.4 3.5 0-90.6 2.6 92.6 0-183.1 2.4 71.2 0 117.2 2.6-104.3 0 108 2.4-14.4 0-97 2.6-43.7 0 139.6 2.4 36.8 0-165.1 2.6 14.4 0 146.5 2.4-19.5 0-76 2.6-10.2 0 74 2.4-82.9 0 110.8 2.6-107.7 0 102.9 2.4 34.6 0-163.7 2.6-18.5 0 145.7 2.4-111.3 0 114.9 2.6-140.3 0 165.5 2.4-24.4 0-103.3 2.6-2.3 0 118.9 2.4-118.1 0 106.4 2.6-138.7 0 156.3 2.4 0 0-135.3 2.6 139.4 0-133.3 2.4 100 0-83 2.6 11.2 0 111.3 2.4-18.7 0-110.6 2.6-3.8 0 126.6 2.4-128.1 0 119.6 2.6-104 0 128.3 2.4-175.8 0 160.1 2.6 11.1 0-129.3 2.4-9.3 0 127.7 2.6-0.6 0-131.8 2.4 2.7 0 143.9 2.6-110.5 0 113 2.4-140.1 0 117.7 2.6-144.8 0 161.4 2.4-125 0 110.9 2.6 10.6 0-133.5 2.4 120 0-119.4 2.6 122.2 0-155.6 2.4 43.2 0 136.4 2.6-153.3 0 141.1 2.4-18.1 0-128.4 2.6-1.7 0 151.1 2.4-143.1 0 129.1 2.6-136.6 0 147.5 2.4-6.3 0-182.9 2.6 202.3 0-144.3 2.4 6.4 0 136.4 2.6-0.3 0-149.3 2.4 153.3 0-154.9 2.6 162 0-166.3 2.4 160.9 0-182.6 2.6 184 0-158.7 2.4-0.5 0 159.9 2.6-189.3 0 158.8 2.4-163 0 196.3 2.6-167.1 0 164.8 2.4-32.1 0-159.4 2.6 21.3 0 173.9 2.4-175.7 0 177.9 2.6-219.8 0 203.2 2.4 5.2 0-192.8 2.6 17.5 0 145 2.4-108.6 0 137.5 2.6-182.1 0 187.8 2.4-8.3 0-170.9 2.6 7.4 0 162 2.4 17.2 0-177.1 2.6 166.5 0-172.6 2.4-23.1 0 218.6 2.6-24.9 0-144.6 2.4-33.7 0 176.4 2.6-162.4 0 165.3 2.4-163 0 161.8 2.6-192.6 0 223.4 2.4-197.9 0 186 2.6-178.4 0 189.4 2.4-186.9 0 186.6 2.6-9.7 0-179 2.4 1.6 0 168.8 2.6-0.3 0-146.5 2.4 136 0-158.7 2.6-3.2 0 177.9 2.4-6.9 0-163.2 2.6-27 0 181.7 2.4 17.7 0-199.7 2.6 1.6 0 208.3 2.4-15.1 0-208.1 2.6 33.4 0 180.2 2.4-175.5 0 190.7 2.6-205.5 0 185.2 2.4-180.8 0 197.7 2.6-13.1 0-188.6 2.4 203.1 0-187.8 2.6-51.5 0 235.3 2.4 4.5 0-231.4 2.6 230.4 0-147 2.4 149.9 0-190.5 2.6 183.3 0-172.1 2.4-51.9 0 241.3 2.6-5.7 0-208.6 2.4 3.4 0 212.6 2.6-5.1 0-204 2.4 188.8 0-190.7 2.6 10 0 175.5 2.4-168.3 0 182.1 2.6 16.3 0-210.3 2.4 213.3 0-247.3 2.6 227.1 0-203.5 2.4 19.9 0 188.6 2.6-6.4 0-188.5 2.4 218.3 0-207.8 2.6-3.9 0 200.1 2.4-1 0-202.1 2.6 10.8 0 194 2.4-199.3 0 198.5 2.6-188.1 0 185 2.4-181.7 0 173.8 2.6 14.4 0-197.8 2.4-6.1 0 180.3 2.6 14.6 0-235 2.4 235 0-192.7 2.6-0.4 0 192.5 2.4-193.3 0 201.3 2.6-20.4 0-168.4 2.4 183.4 0-185.5 2.6-37.8 0 218.9 2.4-188.5 0 195.4 2.6-214.2 0 214.7 2.4 12.7 0-197.2 2.6-0.8 0 183.7 2.4-4.7 0-180.1 2.6 203.3 0-191.6 2.4-15.9 0 181.7 2.6-170.2 0 194.3 2.4-25.1 0-173.8 2.6 8 0 174.3 2.4-216.9 0 237.6 2.6-219.9 0 190.2 2.4 15.2 0-176.8 2.6 187 0-223.5 2.4 23.8 0 174.1 2.6-162.4 0 175.5 2.4-153.7 0 160 2.6-7.1 0-173.7 2.4 197.7 0-188.6 2.6 174.7 0-193.3 2.4 21.7 0 174.1 2.6-156.2 0 151 2.4-163 0 184.7 2.6-183.5 0 190.2 2.4-181.1 0 150.9 2.6-176.5 0 200.1 2.4-29.6 0-163.4 2.6 170.7 0-167.6 2.4-6.2 0 163.9 2.6-189.7 0 200 2.4-172.9 0 171.3 2.6-16.1 0-155.7 2.4 173.5 0-171.4 2.6 156.3 0-150.8 2.4 168.6 0-176.4 2.6 0.9 0 157.8 2.4-156.9 0 168.1 2.6 0.4 0-186.3 2.4 25.1 0 161.4 2.6 3.2 0-165.6 2.4 8.5 0 148.9 2.6 6.6 0-169.8 2.4 175.1 0-164.8 2.6 175.8 0-186.8 2.4 22.2 0 149 2.6-181.8 0 188 2.4 27 0-189.1 2.6-30.6 0 186.2 2.4 17.4 0-177.8 2.6 0.4 0 152.9 2.4 17.6 0-178.2 2.6 7.7 0 161.3 2.4-189.2 0 192.8 2.6-2.4 0-167.7 2.4 180.9 0-173.8 2.6 161.8 0-175.3 2.4 197.6 0-204.5 2.6 0.1 0 182.2 2.4 5.2 0-165.2 2.6-2.4 0 163.3 2.4 1 0-161.6 2.6 162.2 0-157.7 2.4-12.6 0 169.6 2.6-160.5 0 157.5 2.4-2.4 0-152.1 2.6 159 0-163.5 2.4-14.7 0 175.4 2.6-6 0-162.3 2.4 175.5 0-182 2.6 173.9 0-156.3 2.4-6.7 0 165.2 2.6-187.2 0 189.4 2.4-3.4 0-155.8 2.6 167.8 0-170.8"/>
<path stroke="#ffc000" d="M196.9 2442.4l159.4 29.3 93.2 45.7 66.1-12.9 51.3-0.5 42 9.6 35.4-21.1 30.7 21.1 27.1-6.2 24.2 3.5 21.9 9.7 20-152 18.4 35.2 17.1 72 15.8-5.3 14.9 41.3 13.9-22 25.5-27.6 22.5-168.9 10.3-22 10.4 127.8 9.4 23.7 9.3-48 9.4 91.2 9.4 3 7.5 47.3 9.4-23.2 7.5 12.2 5.6-7.8 7.6-2.9 7.5-12.4 7.5 8.2 7.5 1.1 5.6 20.3 5.6-140.4 5.7 117.4 5.6-25 5.6 21.9 5.7 18.1 12.2-29.9 4.7 43.7 11.2 1.1 3.8-12.8 10.3-174.7 6.9 73.6 6.6 92.9 4.7-17.1 6.5 35.8 4.7-19.9 9.4 4.8 5.7-16.5 3.7 6.4 5.6-63 3.8 53.1 3.8-40.6 3.7 29.4 3.8-3.7 5.6 18.9 5.9-9.7 7.2 19.1 7.5-118.5 4.7 109.6 4.7 7.8 7.5-46 7.5 33.5 9.4-83.9 5.7 62.7 7.5 50.7 5.6 9.5 5.6-52.5 8.5-117 2.8 116.5 8.4 46.5 7.6-58.9 5.6 39.1 4.7-50.9 8.4 63.6 6.6-34.8 5.6-85.6 4.7 106.1 4.7 11.6 5.6-49.9 8.5-93.1 8.4 152.7 5.7-110.1 7.5 71.6 1.2-29.2 0 23 2.6-59 0-2.3 2.4 67.3 2.6-45.1 0 29.5 2.4 3.9 0-14.6 2.6 3.7 2.4-0.7 0 24.2 2.6-15.4 0-42 2.4 15 0-31.9 2.6 35.7 2.4-1.1 0-17.3 2.6 41.3 0-22.9 2.4-21.1 0 24.2 2.6 14.9 0-15.9 2.4-1.9 0-15.3 2.6-22 0 11.7 2.4 26.2 0-43.7 2.6 19.6 0-18.5 2.4 58.3 0-45.7 2.6-17 0 30.2 2.4 8.1 0-26.4 2.6-55.3 0 72.8 2.4-79 0 76.2 2.6-25.8 0-2 2.4-68.5 0 103.9 2.6-56 0 25.8 2.4-19.6 0-34.6 2.6 5.2 0 16.1 2.4 57.6 0-47.6 2.6 29.2 0-22.7 2.4 15.2 0-23.1 2.6 63.8 0-42.8 2.4-74.5 0 98 2.6-42.1 0-48.5 2.4 4.3 0 80.9 2.6 19.7 0-17.5 2.4-28 0 37.1 2.6-32.9 0 39.1 2.4-5.7 0-13 2.6-23.1 0 29 2.4-33 0 37.6 2.6 6.9 0-18.2 2.4-74.1 0-42.1 2.6 92.9 0 59.3 2.4-84.3 0 13.5 2.6 46.1 0-103.4 2.4 49.3 0 20.4 2.6 17.1 0-84.7 2.4 33.7 0-59 2.6 93.2 0-30.2 2.4-50.7 0 73 2.6 34.2 0-86.6 2.4 73.1 0-99 2.6 143.6 0-110.3 2.4 107.9 0-101.6 2.6 57.4 0-96.4 2.4 79.7 0-36.7 2.6 39.7 0-53.6 2.4-24.7 0 98.9 2.6-29.5 0-46.9 2.4 1.8 0 17.7 2.6-14.7 0 86.8 2.4-24.8 0-83.4 2.6 5.4 0 57.7 2.4 53.5 0-142 2.6 26.2 0 117.1 2.4-125.8 0 94.5 2.6-9.4 0-26.8 2.4 82.2 0-103.8 2.6-52.4 0 114.9 2.4 7 0-67.6 2.6-56.1 0 102.5 2.4-89.5 0 85.9 2.6-33.1 0-37.4 2.4 77.3 0-104.8 2.6 15.8 0 95.2 2.4-122.6 0 99 2.6-99.6 0 106.8 2.4-55.9 0 103.7 2.6-40 0-83.3 2.4 69.6 0-60.3 2.6-55.9 0 108.6 2.4-6.4 0-99.3 2.6 7.5 0 147.2 2.4-15.9 0-140.2 2.6 81.1 0-64.6 2.4 10.4 0 126.2 2.6-87.2 0-52.4 2.4 1.6 0 94 2.6-110.1 0 127.9 2.4-101.1 0 80.6 2.6-22.7 0-56.3 2.4 79 0-95.7 2.6 49.6 0 95 2.4-46 0-71.6 2.6 98.9 0-110.2 2.4-9.4 0 118.6 2.6-106.3 0 137 2.4-56.2 0-62.8 2.6 49.4 0-47.8 2.4-39.2 0 79.7 2.6-106.2 0 90.2 2.4-84.7 0 128.5 2.6-110.9 0 101 2.4-33.9 0-58.6 2.6-42.5 0 117.1 2.4 22.4 0-116.2 2.6 84.7 0-84.7 2.4 21 0 128.4 2.6-155.1 0 122.2 2.4-0.3 0-111.1 2.6 5.8 0 88.9 2.4-99.8 0 101.8 2.6 0.5 0-107.1 2.4-11.7 0 130.6 2.6 11.2 0-147.4 2.4 106.1 0-74.2 2.6 63.1 0-81.8 2.4-20.5 0 68.4 2.6-21.2 0 76.8 2.4-8.4 0-57.5 2.6 105.5 0-167.8 2.4 160.9 0-127.1 2.6 93.8 0-37.7 2.4 62.9 0-67.2 2.6-60.6 0 102.1 2.4 31.2 0-140.6 2.6 143.4 0-125 2.4 94.1 0-131.1 2.6 31.9 0 61.4 2.4 13.4 0-75.9 2.6 73.6 0-124.8 2.4 39.4 0 134 2.6-56.1 0-105.6 2.4-0.5 0 147.3 2.6-155.6 0 136.8 2.4-71.4 0 78.6 2.6-33 0-104.6 2.4 154.8 0-116.1 2.6-14.3 0 112.1 2.4-3.5 0-146.1 2.6 142.8 0-114 2.4 112.8 0-138.8 2.6-9 0 157.8 2.4-47.8 0-76.5 2.6-0.6 0 132.6 2.4-155.8 0 128.9 2.6 37.7 0-153.6 2.4 133.3 0-149.7 2.6-4.3 0 148.1 2.4-124.4 0 103.2 2.6-136.6 0 161.4 2.4-135 0 135.8 2.6-34.4 0-93.3 2.4 106.1 0-137 2.6 36.6 0 123.3 2.4-169 0 160.3 2.6 4.5 0-135 2.4-0.4 0 126.2 2.6-154.7 0 182.1 2.4-163.6 0 134.5 2.6-160.3 0 131.5 2.4 20.1 0-130.6 2.6 139.3 0-88.6 2.4 83.5 0-124 2.6 99.3 0-126.5 2.4 139.1 0-117.6 2.6 1.1 0 125.7 2.4 4.8 0-110.7 2.6-32.5 0 144.9 2.4-174.1 0 161.9 2.6-37.6 0-102 2.4-19.7 0 175.1 2.6-28.8 0-146.8 2.4 6.6 0 190.5 2.6-177 0 137.4 2.4-162.8 0 178 2.6-171.5 0 199.3 2.4-197.2 0 168.9 2.6-169.3 0 171.6 2.4-179.7 0 189 2.6-154.2 0 140.1 2.4-165.1 0 187.8 2.6-141.2 0 92.6 2.4 21.2 0-119.8 2.6-14.1 0 123.4 2.4-110.1 0 123 2.6 3.3 0-153.9 2.4-14.6 0 171.1 2.6 26.6 0-176.3 2.4 144 0-158 2.6 153.5 0-142.7 2.4 139.3 0-149 2.6 160.7 0-156.4 2.4-5.7 0 163.3 2.6 1.6 0-149.8 2.4 177.4 0-183.4 2.6 27.9 0 122.1 2.4-144.1 0 150.2 2.6-152.5 0 132.6 2.4 13.9 0-134.9 2.6-25.4 0 130.2 2.4-118.2 0 151.2 2.6-13.4 0-134.7 2.4 8.7 0 153.8 2.6-15.2 0-183.6 2.4 158 0-127.6 2.6 146.2 0-146.7 2.4 8.4 0 147 2.6-161.9 0 158.6 2.4-136.9 0 124.7 2.6 1.1 0-141.7 2.4 16 0 129.8 2.6-147.6 0 159 2.4-156.5 0 158.7 2.6-16.9 0-138.8 2.4 182.2 0-185 2.6 11 0 155.9 2.4-168.6 0 161.8 2.6-156.2 0 154.1 2.4 7.9 0-157.2 2.6 163.5 0-173.8 2.4 163.1 0-183.9 2.6 168.1 0-155.5 2.4-9 0 132.1 2.6 45.1 0-157.6 2.4 162.1 0-157.5 2.6-6.4 0 152.8 2.4 8.4 0-160.1 2.6 165.6 0-143.5 2.4 157.6 0-175.8 2.6 171.5 0-170.8 2.4 151.3 0-158.8 2.6 173.7 0-173.3 2.4 9.9 0 142.3 2.6 39.8 0-192.1 2.4 6 0 152.4 2.6 6.5 0-166.4 2.4 24.3 0 148.8 2.6-182.8 0 197.9 2.4-181.9 0 161.2 2.6-174.5 0 198.1 2.4-178.7 0 184.2 2.6-12.3 0-191.9 2.4 174.7 0-155.6 2.6-12.6 0 176 2.4-0.2 0-183.3 2.6 17.2 0 168.1 2.4-168.6 0 170.6 2.6 3.7 0-171.1 2.4 9.7 0 177.8 2.6-192.6 0 178.3 2.4 21.1 0-178.9 2.6 155.2 0-171.1 2.4 4.1 0 165.3 2.6-183.9 0 204.1 2.4-8.3 0-178 2.6-13.8 0 178 2.4-178.8 0 175.4 2.6-171.7 0 163 2.4 15 0-187.1 2.6 20.5 0 161 2.4-167.2 0 166 2.6 12 0-176.8 2.4 174.6 0-176.1 2.6 162 0-152.8 2.4 162.3 0-190.9 2.6 24.5 0 192.4 2.4-187.7 0 166.1 2.6-170.9 0 182.1 2.4-7.4 0-190.1 2.6 194.2 0-171.1 2.4 7 0 186.2 2.6-190.6 0 166.7 2.4 1.6 0-179.7 2.6 185 0-197.4 2.4 195 0-189.1 2.6 17.2 0 170.1 2.4-4.3 0-190.3 2.6 25 0 176.6 2.4-182.2 0 176.3 2.6-199.8 0 201.1 2.4-25.4 0-151.2 2.6 171 0-177.2 2.4 166.3 0-172.2 2.6 7.2 0 172.3 2.4 6.4 0-169.5 2.6 172.2 0-180.1 2.4 174.6 0-164.1 2.6 162.2 0-169.6 2.4 6.7 0 167.4 2.6-183.7 0 216.1 2.4-218 0 188.5 2.6 27.9 0-208 2.4 194.7 0-204.4 2.6 10.8 0 172.8 2.4 6.6 0-178.4 2.6 195.7 0-189 2.4-10.3 0 183.4 2.6 16.7 0-199.6 2.4-0.3 0 181.6 2.6 33 0-210.1 2.4 171.7 0-158.3 2.6-6.2 0 180.1 2.4 4.2 0-180.7 2.6 191.6 0-189.8 2.4-5.1 0 184.1 2.6-182.5 0 166 2.4 16.3 0-172.7 2.6-8.7 0 178.3 2.4-178.7 0 178 2.6-2.8 0-178.8 2.4-21.7 0 229.8 2.6-215.2 0 182.5 2.4-6.6 0-182.8 2.6 29.6 0 186 2.4-23.2 0-179.8 2.6-0.2 0 179 2.4 33.1 0-211.2 2.6-8.7 0 185.1 2.4 16.3 0-193.1 2.6 181 0-182.9 2.4 0.2 0 183.6 2.6-202.4 0 203.1 2.4-182.4 0 176.7 2.6-171.6 0 179 2.4-0.9 0-190.9 2.6 17.5 0 178 2.4-180.7 0 184.4 2.6-185.1 0 184.2 2.4 1.5 0-185.3 2.6 184.8 0-201 2.4 24 0 186.8 2.6-202.7 0 192.5 2.4 1.7 0-192.4 2.6 199.2 0-195.1 2.4-21.8 0 207.2 2.6-191.2 0 210 2.4-195 0 165.1 2.6-176.7 0 181.9 2.4 17.4 0-196.3 2.6-1.4 0 188.9 2.4-2.1 0-176.1 2.6-9.5 0 169.7 2.4-166.1 0 188.3 2.6 35.2 0-235.9 2.4 5.4 0 187.9 2.6 30.8 0-212.3 2.4 6.2 0 173.6"/>
<path stroke="#0000ff" d="M196.9 2469.3l159.4 14.1 93.2-113.6 66.1 94.9 51.3 51.5 42-23.7 35.4 34.2 30.7-19.3 27.1-4.4 24.2 1.8 21.9 8.8 20 10.5 18.4-27.2 17.1 7 15.8-72 14.9 29.8 13.9 57.1 13.2-51.8 11.4-26.7 23.4-155.8 10.3-26.3 10.4 138.9 9.4 69.5 18.7 24.4 9.4-20.7 7.5 3.8 16 45 14.1-20.6 9.3 11.2 13.2 0 7.5-9.3 11.2-9.4 11.3 0.9 5.7 17.8 10.3-52.5 10.3 28.1 9.4 30.1 10.3-77 5 22.5 4.7 0 6.6 39.5 5.6-5.7 13.2-15 4.7-20.6 7.5 45 3.7-9.4 4.7 13.2 4.7-62 4.7 35.7 7.5 33.8 3.8-33.8 5.6 16.9 3.8-50.7 5.6 46.9 3.7-82.6 3.8 62 5.6-71.4 3.8 73.3 4.7-30.1 4.7 35.7 3.7-60.1 6.6 75.1 2.8-63.8 3.8 33.8 3.7-45.1 3.8 56.3 5.6 26.3 4.7-41.3 4.7-56.3 4.7-63.8 3.7 82.6 3.8-20.7 5.6 5.4 4.7 20.9 3.8-75.1 3.7 31.9 3.8 50.7 4.7-67.6 4.7 24.4 7.5 11.3 3.7-7.5 5.7-45.1 5.6 33.8 7.5-15 6.6 63.8 3.7-118.2 3.8 84.4 7.5-97.6 4.7-15 1.2 108.7 0-85 2.6-30.8 0 76.1 2.4-24.4 2.6 2 0 52.8 2.4 25.1 0-67.8 2.6-2.4 2.4-46.8 0 31.8 2.6 8.2 0-19.5 2.4 47 0-74 2.6 52.2 2.4 7.3 0 12.4 2.6-31.4 0-24 2.4-24.8 0 47.7 2.6-68.9 0 83.7 2.4-31.1 0 38.6 2.6-24.7 0-0.2 2.4 31.3 0-27.1 2.6-56.5 0 21.9 2.4-31 0 44.7 2.6-7.1 0 1.4 2.4-45.3 0 10 2.6-45.8 0 35.2 2.4 22.8 0 9.7 2.6-12.3 0 6 2.4-57.6 0 56.9 2.6-48.8 0 42.8 2.4-26.3 0 85.6 2.6-41.2 0-63 2.4 15.3 0 31.5 2.6-26.5 0 48.4 2.4-40.8 0-23.6 2.6 48.9 0-42.7 2.4 8.1 0-12.4 2.6 24.6 0-56.8 2.4 54.1 0 41.5 2.6-93.5 0 80 2.4-40.5 0 14.1 2.6-34.2 0 31 2.4 13.8 0-61.2 2.6 49.6 0 24.1 2.4-19.5 0-30.2 2.6-11.2 0 50.4 2.4-35.5 0 31.6 2.6-38.1 0 64.4 2.4-65 0-5.2 2.6 47 0-79.7 2.4 47.7 0 40.7 2.6-34.4 0 23 2.4 1.6 0-37 2.6-21.1 0 97.8 2.4-128.4 0 75.6 2.6-46.4 0 92.5 2.4-72.9 0 1.6 2.6-18 0 22.5 2.4-67.7 0 40.5 2.6 42.3 0-72.1 2.4 38.8 0 29 2.6-52.5 0 42.9 2.4 55.4 0-132.8 2.6 130.4 0-105.9 2.4 74.7 0-42 2.6-0.4 0-55.1 2.4 53.7 0-21.7 2.6 50.3 0-62.6 2.4 9.4 0-45.9 2.6 63.4 0 41.6 2.4-81.3 0 66.1 2.6-25.3 0-21.7 2.4-2.6 0 37.9 2.6-60.4 0 63.1 2.4-38.8 0 10.6 2.6 35.8 0-60.1 2.4 53.8 0-30 2.6 27.5 0-41.3 2.4 24.1 0-77.1 2.6 95.9 0-53 2.4 57.7 0-8 2.6-112.4 0 123.7 2.4-89.4 0 86.6 2.6-63.5 0 60.9 2.4-12.2 0-45.3 2.6 15.1 0 10.1 2.4-94.2 0 94.5 2.6 34.8 0-115.6 2.4 119.1 0-60.7 2.6 60.4 0-56.3 2.4 51.2 0-85.5 2.6 71.1 0-133.4 2.4 109.5 0-101.2 2.6 34.2 0 82.2 2.4 0.4 0-53.5 2.6-81.5 0 136.8 2.4-13.9 0-127.5 2.6 126.9 0-93.7 2.4 49.1 0 62.7 2.6-6.7 0-72.1 2.4 7.8 0 85.9 2.6-96.1 0 108.1 2.4-168.8 0 131.1 2.6-131.6 0 119.8 2.4 5 0-64.7 2.6-70.2 0 132.7 2.4-106 0 83.9 2.6 52.2 0-73.3 2.4-26 0 58.4 2.6 39.5 0-145.3 2.4 103 0-143.1 2.6 78.2 0 70.9 2.4-70.8 0 100.6 2.6-118.2 0 50.6 2.4 24.3 0-131.9 2.6 118.8 0-64.1 2.4-5.9 0 90.3 2.6-33.4 0-57.6 2.4-56.1 0 114.2 2.6 50.4 0-101.3 2.4-54 0 120.9 2.6-13.3 0-82 2.4-38 0 122.5 2.6-84.5 0 81.9 2.4 1.1 0-77.6 2.6 21 0 35.6 2.4-102.9 0 97.1 2.6 0.5 0-133 2.4 153.1 0-77.1 2.6-40.8 0 107.7 2.4 6.6 0-78.7 2.6-30.6 0 56.1 2.4 73.8 0-184.7 2.6 154.2 0-78.6 2.4 1.8 0 74.9 2.6-82.1 0 78.6 2.4-1.5 0-127.2 2.6 112.1 0-70.6 2.4 84.3 0-77.2 2.6-11.7 0 85.9 2.4-71.8 0 83.7 2.6-80.6 0 72.9 2.4-99 0 56.8 2.6 50.6 0-94.8 2.4-1.7 0 64.2 2.6-13 0-74.9 2.4 65.9 0-69.6 2.6 4.2 0 88.4 2.4-28.6 0-65.6 2.6-51.3 0 146.4 2.4-125.9 0 128.2 2.6 4.8 0-90.3 2.4 86 0-167.2 2.6 173.3 0-99.7 2.4 3.1 0 108.1 2.6-109.6 0 65.7 2.4-114.8 0 141.1 2.6 40.5 0-170.5 2.4 15 0 143.3 2.6-16 0-70.4 2.4-18.2 0 75.1 2.6-81.4 0 112.5 2.4-107.9 0 96 2.6 35.6 0-163.7 2.4-16.5 0 143.6 2.6-97.5 0 108.6 2.4-141.6 0 170 2.6-29.9 0-95 2.4 108.7 0-116.5 2.6 5 0 100.7 2.4-143.6 0 149.4 2.6 8 0-130.8 2.4 142.3 0-130.1 2.6 87.9 0-83.1 2.4 120.1 0-100.7 2.6 86.8 0-108.5 2.4-0.2 0 122.7 2.6-128.1 0 118 2.4 24 0-168.7 2.6 30.8 0 118.4 2.4 16.3 0-127.2 2.6-14 0 127.9 2.4-125.2 0 116.7 2.6-117.8 0 137.9 2.4-95.7 0 98.8 2.6-20.7 0-145.5 2.4 16.9 0 138.7 2.6-1 0-116.9 2.4 122 0-128.4 2.6-10.9 0 127.9 2.4 2.4 0-156.9 2.6 176.5 0-150.8 2.4 2.6 0 142.9 2.6-33.9 0-114.7 2.4 147.4 0-142.1 2.6 19.5 0 114.1 2.4 3.9 0-162.7 2.6 155.9 0-180.1 2.4 206 0-146.3 2.6 140.8 0-137.4 2.4-14.7 0 144.6 2.6-140.3 0 145.3 2.4 22.5 0-172.1 2.6 153.3 0-180.8 2.4 183.3 0-154.1 2.6 162.7 0-201.8 2.4 44.6 0 123.1 2.6-163.5 0 187.8 2.4-0.2 0-159.7 2.6-20.5 0 173.2 2.4-152.4 0 168.9 2.6-173.8 0 172.5 2.4-211.7 0 193.3 2.6 9.7 0-185.2 2.4 18.2 0 157.1 2.6 8.8 0-183 2.4 24.6 0 167.7 2.6-12.6 0-167.6 2.4-1.4 0 174.1 2.6 9.2 0-168 2.4-15.8 0 171.2 2.6-187 0 214.8 2.4-33.2 0-132.9 2.6 137.4 0-173.5 2.4 19.1 0 153.1 2.6-144.2 0 141.1 2.4-175.3 0 214.3 2.6-191.5 0 178.3 2.4-177.2 0 181.8 2.6-179.1 0 176.2 2.4-183.9 0 165.1 2.6-160 0 169.2 2.4-146.5 0 136.3 2.6-160.2 0 169.1 2.4-171.4 0 176 2.6-8.8 0-155 2.4-31.6 0 190.6 2.6 10.5 0-194.6 2.4 204.2 0-193.4 2.6 178 0-203.1 2.4 204.1 0-162.5 2.6-6.3 0 181.6 2.4-202.1 0 196.2 2.6 9.3 0-193.3 2.4 188.6 0-192.4 2.6 197.6 0-228.5 2.4-7.5 0 233.6 2.6-228.6 0 239.8 2.4-14.4 0-158.2 2.6 164.7 0-186.5 2.4 183 0-187.7 2.6-31.2 0 234.6 2.4-205.4 0 188.5 2.6-184.2 0 207 2.4-13.9 0-195 2.6-1 0 173.4 2.4 1.6 0-163.7 2.6 4.2 0 186.5 2.4 6.1 0-204.2 2.6 207.1 0-249.8 2.4 225.2 0-196 2.6 18.8 0 194.5 2.4-194.1 0 190.2 2.6-186.5 0 202.3 2.4-205.4 0 201.7 2.6-3.7 0-194.3 2.4 196.4 0-197.5 2.6 194.8 0-192.6 2.4 7.2 0 183 2.6-184.9 0 190.5 2.4 8.6 0-203.7 2.6 0.1 0 175.8 2.4 12.4 0-237 2.6 241.5 0-190.3 2.4 186.2 0-190.6 2.6 2.1 0 197.8 2.4-20.8 0-163.5 2.6 176.6 0-182.6 2.4-41.9 0 227.7 2.6-193.3 0 193.6 2.4-212.2 0 229 2.6-200.4 0 177.8 2.4-175.5 0 180.6 2.6-181.4 0 180.8 2.4 20.6 0-195.4 2.6-1.9 0 182 2.4-185.2 0 196.5 2.6-202.9 0 183.3 2.4-171.8 0 175.7 2.6-199.2 0 217.6 2.4-29.9 0-187.6 2.6 201.1 0-171.1 2.4 187.7 0-216.1 2.6 25.2 0 169.4 2.4-165 0 172.9 2.6-155.1 0 156.1 2.4-171.9 0 193.3 2.6-186.1 0 169.1 2.4 0.3 0-186.8 2.6 26.8 0 160.7 2.4-149.6 0 152.4 2.6-161.1 0 179.2 2.4-179.4 0 179.2 2.6-19.6 0-181.1 2.4 193.6 0-178.3 2.6 161.1 0-158.9 2.4 159.1 0-159.4 2.6-7.7 0 157.8 2.4-178.3 0 185.4 2.6-168.6 0 167.1 2.4-6.9 0-159.2 2.6 165.2 0-159.1 2.4 143.8 0-146 2.6-1.7 0 167 2.4-167.6 0 162.3 2.6-158.9 0 170.3 2.4-191 0 178.7 2.6-157.6 0 163.4 2.4 2.7 0-162.7 2.6 7.3 0 157.4 2.4-172.8 0 160.7 2.6 14.2 0-156.8 2.4 167.2 0-187.1 2.6 176.8 0-182.9 2.4 1 0 184.5 2.6 16.7 0-176.4 2.4-25.8 0 182.1 2.6 14.3 0-174.1 2.4 2.9 0 156.1 2.6-166.6 0 159.9 2.4-178.7 0 183.7 2.6-158.6 0 156.9 2.4-154.4 0 170.2 2.6-9.5 0-159.2 2.4 150.4 0-166.4 2.6 189.6 0-194.3 2.4-1.3 0 180.5 2.6 16.6 0-175.6 2.4-0.4 0 157.7 2.6-156.1 0 155.7 2.4 2.3 0-157.4 2.6-3.4 0 167.4 2.4-165.4 0 157 2.6-0.4 0-152.2 2.4-1.3 0 155.7 2.6-175.5 0 174.3 2.4-156.6 0 152.9 2.6 11.8 0-181.6 2.4 171.8 0-154.5 2.6-4.4 0 155.8 2.4-183.8 0 188.1 2.6-157.2 0 170.1 2.4-18.1 0-147.5"/>
</g>
<path d="M182.3 2584.3H195.3M187.3 2559.9H195.3M187.3 2535.5H195.3M187.3 2511.1H195.3M182.3 2486.8H195.3M187.3 2462.4H195.3M187.3 2438H195.3M187.3 2413.6H195.3M182.3 2389.2H195.3M187.3 2364.8H195.3M187.3 2340.4H195.3M187.3 2316H195.3M182.3 2291.6H195.3M187.3 2267.2H195.3M187.3 2242.8H195.3M187.3 2218.4H195.3M182.3 2194H195.3M187.3 2169.6H195.3M187.3 2145.3H195.3M187.3 2120.9H195.3M182.3 2096.5H195.3M187.3 2072.1H195.3M187.3 2047.7H195.3M187.3 2023.3H195.3M182.3 1998.9H195.3M187.3 1974.5H195.3M187.3 1950.1H195.3M187.3 1925.7H195.3M290.1 2601.5V2614.5M449.5 2601.5V2614.5M819.5 2601.5V2614.5M978.9 2601.5V2614.5M1348.9 2601.5V2614.5M1508.3 2601.5V2614.5M1878.3 2601.5V2614.5M2037.7 2601.5V2614.5M238.8 2601.5V2608.5M341.4 2601.5V2608.5M383.4 2601.5V2608.5M418.8 2601.5V2608.5M608.9 2601.5V2608.5M702.1 2601.5V2608.5M768.2 2601.5V2608.5M870.8 2601.5V2608.5M912.8 2601.5V2608.5M948.2 2601.5V2608.5M1138.3 2601.5V2608.5M1231.5 2601.5V2608.5M1297.6 2601.5V2608.5M1400.2 2601.5V2608.5M1442.2 2601.5V2608.5M1477.6 2601.5V2608.5M1667.7 2601.5V2608.5M1760.9 2601.5V2608.5M1827 2601.5V2608.5M1929.6 2601.5V2608.5M1971.6 2601.5V2608.5M2007 2601.5V2608.5M2197.1 2601.5V2608.5" stroke="#1a1a1a" stroke-width="2.4" fill="none"/>
<path d="M195.3 1921.8V2601.5H2217.8" stroke="#111" stroke-width="2.4" fill="none"/>
<g font-size="41.5" letter-spacing="1.6" stroke="#000" stroke-width="0.6"><text x="177.9" y="2594.6" text-anchor="end">20</text><text x="177.9" y="2497.1" text-anchor="end">30</text><text x="177.9" y="2399.5" text-anchor="end">40</text><text x="177.9" y="2301.9" text-anchor="end">50</text><text x="177.9" y="2204.3" text-anchor="end">60</text><text x="177.9" y="2106.8" text-anchor="end">70</text><text x="177.9" y="2009.2" text-anchor="end">80</text><text x="290.9" y="2651.5" text-anchor="middle">5</text><text x="450.3" y="2651.5" text-anchor="middle">10</text><text x="820.3" y="2651.5" text-anchor="middle">50</text><text x="979.7" y="2651.5" text-anchor="middle">100</text><text x="1349.7" y="2651.5" text-anchor="middle">500</text><text x="1509.1" y="2651.5" text-anchor="middle">1000</text><text x="1879.1" y="2651.5" text-anchor="middle">5000</text><text x="2039.3" y="2651.5" text-anchor="middle" letter-spacing="2.3">10,000</text></g>
<text x="1206.3" y="2728.5" font-size="58" text-anchor="middle">Frequency (/s)</text>
<text transform="translate(96.7 2265.1) rotate(-90)" font-size="58.4" text-anchor="middle">Sound Pressure Level (dB)</text>
<text x="1131.5" y="2825" font-size="44" text-anchor="middle">(<tspan font-weight="bold">c</tspan>)</text>
<rect x="1899.7" y="44.2" width="291.9" height="251.9" fill="#fff" fill-opacity="0.75" stroke="#111" stroke-width="2.6"/>
<path d="M1910 79.2H1965.7" stroke="#0000ff" stroke-width="3" opacity="0.8"/>
<text x="1974.7" y="89.9" font-size="43.5" stroke="#000" stroke-width="0.45">Near REC1</text>
<path d="M1910 140H1965.7" stroke="#00ff00" stroke-width="3" opacity="0.8"/>
<text x="1974.7" y="150.7" font-size="43.5" stroke="#000" stroke-width="0.45">Near REC2</text>
<path d="M1910 200.5H1965.7" stroke="#ff0000" stroke-width="3" opacity="0.8"/>
<text x="1974.7" y="211.2" font-size="43.5" stroke="#000" stroke-width="0.45">Near REC3</text>
<path d="M1910 262.2H1965.7" stroke="#ffc000" stroke-width="3" opacity="0.8"/>
<text x="1974.7" y="272.9" font-size="43.5" stroke="#000" stroke-width="0.45">Near REC4</text>
<rect x="240" y="984.6" width="196.5" height="254.6" fill="#fff" fill-opacity="0.75" stroke="#111" stroke-width="2.6"/>
<path d="M250.9 1020.6H306.4" stroke="#0000ff" stroke-width="3" opacity="0.8"/>
<text x="316" y="1031.3" font-size="43.5" stroke="#000" stroke-width="0.45">REC1</text>
<path d="M250.9 1081.7H306.4" stroke="#ffc000" stroke-width="3" opacity="0.8"/>
<text x="316" y="1092.4" font-size="43.5" stroke="#000" stroke-width="0.45">REC2</text>
<path d="M250.9 1142.5H306.4" stroke="#00ff00" stroke-width="3" opacity="0.8"/>
<text x="316" y="1153.2" font-size="43.5" stroke="#000" stroke-width="0.45">REC3</text>
<path d="M250.9 1203.2H306.4" stroke="#ff0000" stroke-width="3" opacity="0.8"/>
<text x="316" y="1213.9" font-size="43.5" stroke="#000" stroke-width="0.45">REC4</text>
<rect x="229.7" y="2013.6" width="263.6" height="254.7" fill="#fff" fill-opacity="0.75" stroke="#111" stroke-width="2.6"/>
<path d="M240.2 2050.1H295.7" stroke="#00ff00" stroke-width="3" opacity="0.8"/>
<text x="305.7" y="2060.8" font-size="43.5" stroke="#000" stroke-width="0.45">Far REC1</text>
<path d="M240.2 2111H295.7" stroke="#ff0000" stroke-width="3" opacity="0.8"/>
<text x="305.7" y="2121.7" font-size="43.5" stroke="#000" stroke-width="0.45">Far REC2</text>
<path d="M240.2 2171.3H295.7" stroke="#ffc000" stroke-width="3" opacity="0.8"/>
<text x="305.7" y="2182" font-size="43.5" stroke="#000" stroke-width="0.45">Far REC3</text>
<path d="M240.2 2232.2H295.7" stroke="#0000ff" stroke-width="3" opacity="0.8"/>
<text x="305.7" y="2242.9" font-size="43.5" stroke="#000" stroke-width="0.45">Far REC4</text>
</svg></body></html>
